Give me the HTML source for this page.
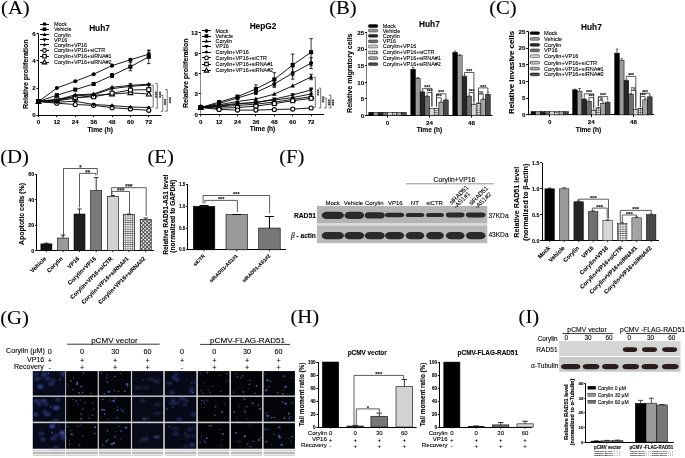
<!DOCTYPE html>
<html><head><meta charset="utf-8"><title>Figure</title>
<style>html,body{margin:0;padding:0;background:#fff;}svg{display:block;filter:blur(0.25px);}</style></head>
<body><svg width="685" height="458" viewBox="0 0 685 458" font-family="Liberation Sans, Arial, sans-serif">
<style>text{stroke:currentColor;stroke-width:0.1px;}</style>
<rect width="685" height="458" fill="#fff"/>
<defs>
<pattern id="pgrid" width="2.2" height="2.2" patternUnits="userSpaceOnUse">
<rect width="2.2" height="2.2" fill="#f4f4f4"/><path d="M0 0.3H2.2M0.3 0V2.2" stroke="#444" stroke-width="0.55"/></pattern>
<pattern id="phatch" width="1.6" height="1.6" patternUnits="userSpaceOnUse">
<rect width="1.6" height="1.6" fill="#bdbdbd"/><rect width="0.8" height="0.8" fill="#8a8a8a"/><rect x="0.8" y="0.8" width="0.8" height="0.8" fill="#8a8a8a"/></pattern>
<pattern id="pcheck" width="2.0" height="2.0" patternUnits="userSpaceOnUse">
<rect width="2.0" height="2.0" fill="#2a2a2a"/><rect x="0.5" y="0.5" width="0.9" height="0.9" fill="#bbb"/></pattern>
<pattern id="pcheckD" width="2.6" height="2.6" patternUnits="userSpaceOnUse" patternTransform="rotate(45)">
<rect width="2.6" height="2.6" fill="#eee"/><path d="M0 0.4H2.6M0.4 0V2.6" stroke="#333" stroke-width="0.8"/></pattern>
<filter id="blur1" x="-50%" y="-50%" width="200%" height="200%"><feGaussianBlur stdDeviation="0.6"/></filter>
<filter id="blur2" x="-50%" y="-50%" width="200%" height="200%"><feGaussianBlur stdDeviation="1.2"/></filter>
<filter id="blur4" x="-50%" y="-50%" width="200%" height="200%"><feGaussianBlur stdDeviation="0.75"/></filter>
<filter id="blur5" x="-50%" y="-50%" width="200%" height="200%"><feGaussianBlur stdDeviation="1.0"/></filter>
<filter id="blur3" x="-50%" y="-50%" width="200%" height="200%"><feGaussianBlur stdDeviation="0.35"/></filter>
</defs>
<text transform="translate(1 13.7) scale(1.065 1)" font-size="19.4" font-family="Liberation Serif, Times New Roman, serif">(A)</text>
<line x1="38.5" y1="115.5" x2="38.5" y2="33.8" stroke="#000" stroke-width="1"/>
<line x1="36.5" y1="115.5" x2="38.5" y2="115.5" stroke="#000" stroke-width="1"/>
<text x="35.7" y="117.33" font-size="6.2" font-weight="bold" text-anchor="end">0</text>
<line x1="36.5" y1="88.5" x2="38.5" y2="88.5" stroke="#000" stroke-width="1"/>
<text x="35.7" y="90.23" font-size="6.2" font-weight="bold" text-anchor="end">2</text>
<line x1="36.5" y1="60.5" x2="38.5" y2="60.5" stroke="#000" stroke-width="1"/>
<text x="35.7" y="63.13" font-size="6.2" font-weight="bold" text-anchor="end">4</text>
<line x1="36.5" y1="33.5" x2="38.5" y2="33.5" stroke="#000" stroke-width="1"/>
<text x="35.7" y="36.03" font-size="6.2" font-weight="bold" text-anchor="end">6</text>
<line x1="38.1" y1="115.5" x2="161.5" y2="115.5" stroke="#000" stroke-width="1"/>
<line x1="38.5" y1="115.1" x2="38.5" y2="117.1" stroke="#000" stroke-width="1"/>
<text x="38.5" y="124.3" font-size="6.2" font-weight="bold" text-anchor="middle">0</text>
<line x1="56.5" y1="115.1" x2="56.5" y2="117.1" stroke="#000" stroke-width="1"/>
<text x="56.88" y="124.3" font-size="6.2" font-weight="bold" text-anchor="middle">12</text>
<line x1="75.5" y1="115.1" x2="75.5" y2="117.1" stroke="#000" stroke-width="1"/>
<text x="75.26" y="124.3" font-size="6.2" font-weight="bold" text-anchor="middle">24</text>
<line x1="93.5" y1="115.1" x2="93.5" y2="117.1" stroke="#000" stroke-width="1"/>
<text x="93.64" y="124.3" font-size="6.2" font-weight="bold" text-anchor="middle">36</text>
<line x1="112.5" y1="115.1" x2="112.5" y2="117.1" stroke="#000" stroke-width="1"/>
<text x="112.02" y="124.3" font-size="6.2" font-weight="bold" text-anchor="middle">48</text>
<line x1="130.5" y1="115.1" x2="130.5" y2="117.1" stroke="#000" stroke-width="1"/>
<text x="130.4" y="124.3" font-size="6.2" font-weight="bold" text-anchor="middle">60</text>
<line x1="148.5" y1="115.1" x2="148.5" y2="117.1" stroke="#000" stroke-width="1"/>
<text x="148.78" y="124.3" font-size="6.2" font-weight="bold" text-anchor="middle">72</text>
<text x="100.2" y="131.9" font-size="6.6" font-weight="bold" text-anchor="middle">Time (h)</text>
<text x="28.5" y="74.2" font-size="7" font-weight="bold" text-anchor="middle" transform="rotate(-90 28.5 74.2)">Relative  proliferation</text>
<text x="99.5" y="31" font-size="8.3" font-weight="bold" text-anchor="middle">Huh7</text>
<path d="M38.5 101.55L56.88 88L75.26 81.22L93.64 74.18L112.02 65.64L130.4 59.82L148.78 54.12" stroke="#000" stroke-width="0.9" fill="none"/>
<path d="M38.5 101.55L56.88 95.18L75.26 89.63L93.64 83.94L112.02 75.53L130.4 66.73L148.78 56.83" stroke="#000" stroke-width="0.9" fill="none"/>
<path d="M38.5 101.55L56.88 99.92L75.26 94.77L93.64 94.1L112.02 87.32L130.4 85.29L148.78 84.21" stroke="#000" stroke-width="0.9" fill="none"/>
<path d="M38.5 101.55L56.88 100.87L75.26 95.86L93.64 94.77L112.02 88.68L130.4 86.37L148.78 85.02" stroke="#000" stroke-width="0.9" fill="none"/>
<path d="M38.5 101.55L56.88 102.23L75.26 101.28L93.64 104.53L112.02 105.61L130.4 106.97L148.78 107.51" stroke="#000" stroke-width="0.9" fill="none"/>
<path d="M38.5 101.55L56.88 103.18L75.26 104.53L93.64 105.34L112.02 107.65L130.4 109L148.78 110.36" stroke="#000" stroke-width="0.9" fill="none"/>
<path d="M38.5 101.55L56.88 99.11L75.26 97.48L93.64 96.81L112.02 93.15L130.4 90.03L148.78 89.63" stroke="#000" stroke-width="0.9" fill="none"/>
<path d="M38.5 101.55L56.88 100.87L75.26 98.16L93.64 95.45L112.02 94.1L130.4 92.74L148.78 94.1" stroke="#000" stroke-width="0.9" fill="none"/>
<path d="M38.5 98.88L40.96 103.39L36.04 103.39Z" fill="#fff" stroke="#000" stroke-width="1.1"/>
<path d="M56.88 98.21L59.34 102.72L54.42 102.72Z" fill="#fff" stroke="#000" stroke-width="1.1"/>
<path d="M75.26 95.5L77.72 100.01L72.8 100.01Z" fill="#fff" stroke="#000" stroke-width="1.1"/>
<path d="M93.64 92.79L96.1 97.3L91.18 97.3Z" fill="#fff" stroke="#000" stroke-width="1.1"/>
<path d="M112.02 91.43L114.48 95.94L109.56 95.94Z" fill="#fff" stroke="#000" stroke-width="1.1"/>
<path d="M130.4 90.08L132.86 94.59L127.94 94.59Z" fill="#fff" stroke="#000" stroke-width="1.1"/>
<path d="M148.78 91.43L151.24 95.94L146.32 95.94Z" fill="#fff" stroke="#000" stroke-width="1.1"/>
<rect x="36.55" y="99.6" width="3.89" height="3.89" fill="#fff" stroke="#000" stroke-width="1.1"/>
<rect x="54.93" y="97.16" width="3.89" height="3.89" fill="#fff" stroke="#000" stroke-width="1.1"/>
<rect x="73.31" y="95.54" width="3.89" height="3.89" fill="#fff" stroke="#000" stroke-width="1.1"/>
<rect x="91.69" y="94.86" width="3.89" height="3.89" fill="#fff" stroke="#000" stroke-width="1.1"/>
<rect x="110.07" y="91.2" width="3.89" height="3.89" fill="#fff" stroke="#000" stroke-width="1.1"/>
<rect x="128.45" y="88.08" width="3.89" height="3.89" fill="#fff" stroke="#000" stroke-width="1.1"/>
<line x1="148.78" y1="88" x2="148.78" y2="91.25" stroke="#000" stroke-width="0.8"/>
<line x1="146.98" y1="88" x2="150.58" y2="88" stroke="#000" stroke-width="0.8"/>
<line x1="146.98" y1="91.25" x2="150.58" y2="91.25" stroke="#000" stroke-width="0.8"/>
<rect x="146.83" y="87.68" width="3.89" height="3.89" fill="#fff" stroke="#000" stroke-width="1.1"/>
<circle cx="38.5" cy="101.55" r="2.05" fill="#fff" stroke="#000" stroke-width="1.1"/>
<circle cx="56.88" cy="103.18" r="2.05" fill="#fff" stroke="#000" stroke-width="1.1"/>
<circle cx="75.26" cy="104.53" r="2.05" fill="#fff" stroke="#000" stroke-width="1.1"/>
<circle cx="93.64" cy="105.34" r="2.05" fill="#fff" stroke="#000" stroke-width="1.1"/>
<circle cx="112.02" cy="107.65" r="2.05" fill="#fff" stroke="#000" stroke-width="1.1"/>
<line x1="130.4" y1="107.65" x2="130.4" y2="110.36" stroke="#000" stroke-width="0.8"/>
<line x1="128.6" y1="107.65" x2="132.2" y2="107.65" stroke="#000" stroke-width="0.8"/>
<line x1="128.6" y1="110.36" x2="132.2" y2="110.36" stroke="#000" stroke-width="0.8"/>
<circle cx="130.4" cy="109" r="2.05" fill="#fff" stroke="#000" stroke-width="1.1"/>
<circle cx="148.78" cy="110.36" r="2.05" fill="#fff" stroke="#000" stroke-width="1.1"/>
<path d="M38.5 99.5L40.55 101.55L38.5 103.6L36.45 101.55Z" fill="#000"/>
<path d="M56.88 100.18L58.93 102.23L56.88 104.28L54.83 102.23Z" fill="#000"/>
<path d="M75.26 99.23L77.31 101.28L75.26 103.33L73.21 101.28Z" fill="#000"/>
<path d="M93.64 102.48L95.69 104.53L93.64 106.58L91.59 104.53Z" fill="#000"/>
<path d="M112.02 103.56L114.07 105.61L112.02 107.66L109.97 105.61Z" fill="#000"/>
<path d="M130.4 104.92L132.45 106.97L130.4 109.02L128.35 106.97Z" fill="#000"/>
<path d="M148.78 105.46L150.83 107.51L148.78 109.56L146.73 107.51Z" fill="#000"/>
<path d="M38.5 104.01L40.76 99.91L36.24 99.91Z" fill="#000"/>
<path d="M56.88 103.33L59.13 99.23L54.62 99.23Z" fill="#000"/>
<path d="M75.26 98.32L77.51 94.22L73 94.22Z" fill="#000"/>
<path d="M93.64 97.23L95.89 93.13L91.39 93.13Z" fill="#000"/>
<path d="M112.02 91.14L114.27 87.04L109.77 87.04Z" fill="#000"/>
<path d="M130.4 88.83L132.65 84.73L128.14 84.73Z" fill="#000"/>
<path d="M148.78 87.48L151.03 83.38L146.53 83.38Z" fill="#000"/>
<path d="M38.5 99.09L40.76 103.19L36.24 103.19Z" fill="#000"/>
<path d="M56.88 97.46L59.13 101.56L54.62 101.56Z" fill="#000"/>
<path d="M75.26 92.31L77.51 96.41L73 96.41Z" fill="#000"/>
<path d="M93.64 91.64L95.89 95.74L91.39 95.74Z" fill="#000"/>
<path d="M112.02 84.86L114.27 88.96L109.77 88.96Z" fill="#000"/>
<line x1="130.4" y1="83.66" x2="130.4" y2="86.92" stroke="#000" stroke-width="0.8"/>
<line x1="128.6" y1="83.66" x2="132.2" y2="83.66" stroke="#000" stroke-width="0.8"/>
<line x1="128.6" y1="86.92" x2="132.2" y2="86.92" stroke="#000" stroke-width="0.8"/>
<path d="M130.4 82.83L132.65 86.93L128.14 86.93Z" fill="#000"/>
<path d="M148.78 81.75L151.03 85.85L146.53 85.85Z" fill="#000"/>
<circle cx="38.5" cy="101.55" r="2.05" fill="#000"/>
<circle cx="56.88" cy="88" r="2.05" fill="#000"/>
<circle cx="75.26" cy="81.22" r="2.05" fill="#000"/>
<circle cx="93.64" cy="74.18" r="2.05" fill="#000"/>
<circle cx="112.02" cy="65.64" r="2.05" fill="#000"/>
<line x1="130.4" y1="58.46" x2="130.4" y2="61.17" stroke="#000" stroke-width="0.8"/>
<line x1="128.6" y1="58.46" x2="132.2" y2="58.46" stroke="#000" stroke-width="0.8"/>
<line x1="128.6" y1="61.17" x2="132.2" y2="61.17" stroke="#000" stroke-width="0.8"/>
<circle cx="130.4" cy="59.82" r="2.05" fill="#000"/>
<line x1="148.78" y1="50.74" x2="148.78" y2="57.51" stroke="#000" stroke-width="0.8"/>
<line x1="146.98" y1="50.74" x2="150.58" y2="50.74" stroke="#000" stroke-width="0.8"/>
<line x1="146.98" y1="57.51" x2="150.58" y2="57.51" stroke="#000" stroke-width="0.8"/>
<circle cx="148.78" cy="54.12" r="2.05" fill="#000"/>
<rect x="36.45" y="99.5" width="4.1" height="4.1" fill="#000"/>
<rect x="54.83" y="93.13" width="4.1" height="4.1" fill="#000"/>
<rect x="73.21" y="87.58" width="4.1" height="4.1" fill="#000"/>
<rect x="91.59" y="81.89" width="4.1" height="4.1" fill="#000"/>
<line x1="112.02" y1="73.5" x2="112.02" y2="77.57" stroke="#000" stroke-width="0.8"/>
<line x1="110.22" y1="73.5" x2="113.82" y2="73.5" stroke="#000" stroke-width="0.8"/>
<line x1="110.22" y1="77.57" x2="113.82" y2="77.57" stroke="#000" stroke-width="0.8"/>
<rect x="109.97" y="73.48" width="4.1" height="4.1" fill="#000"/>
<line x1="130.4" y1="62.66" x2="130.4" y2="70.79" stroke="#000" stroke-width="0.8"/>
<line x1="128.6" y1="62.66" x2="132.2" y2="62.66" stroke="#000" stroke-width="0.8"/>
<line x1="128.6" y1="70.79" x2="132.2" y2="70.79" stroke="#000" stroke-width="0.8"/>
<rect x="128.35" y="64.68" width="4.1" height="4.1" fill="#000"/>
<line x1="148.78" y1="50.06" x2="148.78" y2="63.61" stroke="#000" stroke-width="0.8"/>
<line x1="146.98" y1="50.06" x2="150.58" y2="50.06" stroke="#000" stroke-width="0.8"/>
<line x1="146.98" y1="63.61" x2="150.58" y2="63.61" stroke="#000" stroke-width="0.8"/>
<rect x="146.73" y="54.78" width="4.1" height="4.1" fill="#000"/>
<line x1="40.1" y1="24.5" x2="48.9" y2="24.5" stroke="#000" stroke-width="1"/>
<circle cx="44.5" cy="24" r="1.85" fill="#000"/>
<text x="54" y="25.9" font-size="5.4">Mock</text>
<line x1="40.1" y1="29.5" x2="48.9" y2="29.5" stroke="#000" stroke-width="1"/>
<rect x="42.65" y="27.35" width="3.7" height="3.7" fill="#000"/>
<text x="54" y="31.1" font-size="5.4">Vehicle</text>
<line x1="40.1" y1="34.5" x2="48.9" y2="34.5" stroke="#000" stroke-width="1"/>
<path d="M44.5 32.38L46.53 36.08L42.47 36.08Z" fill="#000"/>
<text x="54" y="36.5" font-size="5.4">Corylin</text>
<line x1="40.1" y1="39.5" x2="48.9" y2="39.5" stroke="#000" stroke-width="1"/>
<path d="M44.5 42.02L46.53 38.32L42.47 38.32Z" fill="#000"/>
<text x="54" y="41.7" font-size="5.4">VP16</text>
<line x1="40.1" y1="44.5" x2="48.9" y2="44.5" stroke="#000" stroke-width="1"/>
<path d="M44.5 42.95L46.35 44.8L44.5 46.65L42.65 44.8Z" fill="#000"/>
<text x="54" y="46.7" font-size="5.4">Corylin+VP16</text>
<line x1="40.1" y1="50.5" x2="48.9" y2="50.5" stroke="#000" stroke-width="1"/>
<circle cx="44.5" cy="50.5" r="1.85" fill="#fff" stroke="#000" stroke-width="1.1"/>
<text x="54" y="52.4" font-size="5.4">Corylin+VP16+siCTR</text>
<line x1="40.1" y1="56.5" x2="48.9" y2="56.5" stroke="#000" stroke-width="1"/>
<rect x="42.74" y="54.44" width="3.52" height="3.52" fill="#fff" stroke="#000" stroke-width="1.1"/>
<text x="54" y="58.1" font-size="5.4">Corylin+VP16+siRNA#1</text>
<line x1="40.1" y1="62.5" x2="48.9" y2="62.5" stroke="#000" stroke-width="1"/>
<path d="M44.5 59.8L46.72 63.87L42.28 63.87Z" fill="#fff" stroke="#000" stroke-width="1.1"/>
<text x="54" y="64.1" font-size="5.4">Corylin+VP16+siRNA#2</text>
<path d="M151.2 85.3H153.2V107.1H151.2" stroke="#333" stroke-width="0.7" fill="none"/>
<text x="152.7" y="94.7" font-size="5.5" font-weight="bold" text-anchor="middle" fill="#333" transform="rotate(90 152.7 94.7)">***</text>
<path d="M155.3 83.4H157.3V108.2H155.3" stroke="#333" stroke-width="0.7" fill="none"/>
<text x="156.8" y="94.7" font-size="5.5" font-weight="bold" text-anchor="middle" fill="#333" transform="rotate(90 156.8 94.7)">***</text>
<path d="M160.8 95.3H162.8V111.3H160.8" stroke="#333" stroke-width="0.7" fill="none"/>
<text x="162.3" y="102" font-size="5.5" font-weight="bold" text-anchor="middle" fill="#333" transform="rotate(90 162.3 102)">***</text>
<path d="M165.2 89.5H167.2V111.3H165.2" stroke="#333" stroke-width="0.7" fill="none"/>
<text x="166.7" y="100.2" font-size="5.5" font-weight="bold" text-anchor="middle" fill="#333" transform="rotate(90 166.7 100.2)">***</text>
<line x1="200.5" y1="114.7" x2="200.5" y2="32.94" stroke="#8a8a8a" stroke-width="1"/>
<line x1="198.7" y1="114.5" x2="200.7" y2="114.5" stroke="#000" stroke-width="1"/>
<text x="197.9" y="116.53" font-size="6.2" font-weight="bold" text-anchor="end">0</text>
<line x1="198.7" y1="93.5" x2="200.7" y2="93.5" stroke="#000" stroke-width="1"/>
<text x="197.9" y="96.19" font-size="6.2" font-weight="bold" text-anchor="end">3</text>
<line x1="198.7" y1="73.5" x2="200.7" y2="73.5" stroke="#000" stroke-width="1"/>
<text x="197.9" y="75.85" font-size="6.2" font-weight="bold" text-anchor="end">6</text>
<line x1="198.7" y1="53.5" x2="200.7" y2="53.5" stroke="#000" stroke-width="1"/>
<text x="197.9" y="55.51" font-size="6.2" font-weight="bold" text-anchor="end">9</text>
<line x1="198.7" y1="32.5" x2="200.7" y2="32.5" stroke="#000" stroke-width="1"/>
<text x="197.9" y="35.17" font-size="6.2" font-weight="bold" text-anchor="end">12</text>
<line x1="200.3" y1="114.5" x2="324" y2="114.5" stroke="#000" stroke-width="1"/>
<line x1="200.5" y1="114.3" x2="200.5" y2="116.3" stroke="#000" stroke-width="1"/>
<text x="200.7" y="123.5" font-size="6.2" font-weight="bold" text-anchor="middle">0</text>
<line x1="219.5" y1="114.3" x2="219.5" y2="116.3" stroke="#000" stroke-width="1"/>
<text x="219.1" y="123.5" font-size="6.2" font-weight="bold" text-anchor="middle">12</text>
<line x1="237.5" y1="114.3" x2="237.5" y2="116.3" stroke="#000" stroke-width="1"/>
<text x="237.5" y="123.5" font-size="6.2" font-weight="bold" text-anchor="middle">24</text>
<line x1="255.5" y1="114.3" x2="255.5" y2="116.3" stroke="#000" stroke-width="1"/>
<text x="255.9" y="123.5" font-size="6.2" font-weight="bold" text-anchor="middle">36</text>
<line x1="274.5" y1="114.3" x2="274.5" y2="116.3" stroke="#000" stroke-width="1"/>
<text x="274.3" y="123.5" font-size="6.2" font-weight="bold" text-anchor="middle">48</text>
<line x1="292.5" y1="114.3" x2="292.5" y2="116.3" stroke="#000" stroke-width="1"/>
<text x="292.7" y="123.5" font-size="6.2" font-weight="bold" text-anchor="middle">60</text>
<line x1="311.5" y1="114.3" x2="311.5" y2="116.3" stroke="#000" stroke-width="1"/>
<text x="311.1" y="123.5" font-size="6.2" font-weight="bold" text-anchor="middle">72</text>
<text x="262.55" y="131.1" font-size="6.6" font-weight="bold" text-anchor="middle">Time (h)</text>
<text x="187.6" y="73.2" font-size="7" font-weight="bold" text-anchor="middle" transform="rotate(-90 187.6 73.2)">Relative  proliferation</text>
<text x="263" y="29" font-size="8.3" font-weight="bold" text-anchor="middle">HepG2</text>
<path d="M200.7 107.52L219.1 103.45L237.5 98.03L255.9 92.4L274.3 83.93L292.7 73.08L311.1 63.11" stroke="#000" stroke-width="0.9" fill="none"/>
<path d="M200.7 107.52L219.1 102.1L237.5 96.67L255.9 88.94L274.3 79.45L292.7 64.94L311.1 52.2" stroke="#000" stroke-width="0.9" fill="none"/>
<path d="M200.7 107.52L219.1 104.81L237.5 101.42L255.9 99.05L274.3 94.16L292.7 85.82L311.1 77.01" stroke="#000" stroke-width="0.9" fill="none"/>
<path d="M200.7 107.52L219.1 105.49L237.5 103.45L255.9 102.77L274.3 99.05L292.7 94.98L311.1 89.89" stroke="#000" stroke-width="0.9" fill="none"/>
<path d="M200.7 107.52L219.1 106.16L237.5 104.13L255.9 102.1L274.3 100.06L292.7 97.55L311.1 93.96" stroke="#000" stroke-width="0.9" fill="none"/>
<path d="M200.7 107.52L219.1 109.42L237.5 110.1L255.9 110.1L274.3 109.49L292.7 109.08L311.1 107.99" stroke="#000" stroke-width="0.9" fill="none"/>
<path d="M200.7 107.52L219.1 108.2L237.5 107.52L255.9 106.16L274.3 103.59L292.7 100.74L311.1 98.37" stroke="#000" stroke-width="0.9" fill="none"/>
<path d="M200.7 107.52L219.1 106.84L237.5 105.49L255.9 104.13L274.3 102.1L292.7 99.38L311.1 96.67" stroke="#000" stroke-width="0.9" fill="none"/>
<path d="M200.7 104.85L203.16 109.36L198.24 109.36Z" fill="#fff" stroke="#000" stroke-width="1.1"/>
<path d="M219.1 104.18L221.56 108.69L216.64 108.69Z" fill="#fff" stroke="#000" stroke-width="1.1"/>
<path d="M237.5 102.82L239.96 107.33L235.04 107.33Z" fill="#fff" stroke="#000" stroke-width="1.1"/>
<path d="M255.9 101.46L258.36 105.97L253.44 105.97Z" fill="#fff" stroke="#000" stroke-width="1.1"/>
<path d="M274.3 99.43L276.76 103.94L271.84 103.94Z" fill="#fff" stroke="#000" stroke-width="1.1"/>
<path d="M292.7 96.72L295.16 101.23L290.24 101.23Z" fill="#fff" stroke="#000" stroke-width="1.1"/>
<path d="M311.1 94.01L313.56 98.52L308.64 98.52Z" fill="#fff" stroke="#000" stroke-width="1.1"/>
<rect x="198.75" y="105.57" width="3.89" height="3.89" fill="#fff" stroke="#000" stroke-width="1.1"/>
<rect x="217.15" y="106.25" width="3.89" height="3.89" fill="#fff" stroke="#000" stroke-width="1.1"/>
<rect x="235.55" y="105.57" width="3.89" height="3.89" fill="#fff" stroke="#000" stroke-width="1.1"/>
<rect x="253.95" y="104.22" width="3.89" height="3.89" fill="#fff" stroke="#000" stroke-width="1.1"/>
<rect x="272.35" y="101.64" width="3.89" height="3.89" fill="#fff" stroke="#000" stroke-width="1.1"/>
<rect x="290.75" y="98.79" width="3.89" height="3.89" fill="#fff" stroke="#000" stroke-width="1.1"/>
<rect x="309.15" y="96.42" width="3.89" height="3.89" fill="#fff" stroke="#000" stroke-width="1.1"/>
<circle cx="200.7" cy="107.52" r="2.05" fill="#fff" stroke="#000" stroke-width="1.1"/>
<circle cx="219.1" cy="109.42" r="2.05" fill="#fff" stroke="#000" stroke-width="1.1"/>
<circle cx="237.5" cy="110.1" r="2.05" fill="#fff" stroke="#000" stroke-width="1.1"/>
<circle cx="255.9" cy="110.1" r="2.05" fill="#fff" stroke="#000" stroke-width="1.1"/>
<circle cx="274.3" cy="109.49" r="2.05" fill="#fff" stroke="#000" stroke-width="1.1"/>
<circle cx="292.7" cy="109.08" r="2.05" fill="#fff" stroke="#000" stroke-width="1.1"/>
<circle cx="311.1" cy="107.99" r="2.05" fill="#fff" stroke="#000" stroke-width="1.1"/>
<path d="M200.7 105.47L202.75 107.52L200.7 109.57L198.65 107.52Z" fill="#000"/>
<path d="M219.1 104.11L221.15 106.16L219.1 108.21L217.05 106.16Z" fill="#000"/>
<path d="M237.5 102.08L239.55 104.13L237.5 106.18L235.45 104.13Z" fill="#000"/>
<path d="M255.9 100.05L257.95 102.1L255.9 104.15L253.85 102.1Z" fill="#000"/>
<path d="M274.3 98.01L276.35 100.06L274.3 102.11L272.25 100.06Z" fill="#000"/>
<path d="M292.7 95.5L294.75 97.55L292.7 99.6L290.65 97.55Z" fill="#000"/>
<path d="M311.1 91.91L313.15 93.96L311.1 96.01L309.05 93.96Z" fill="#000"/>
<path d="M200.7 109.98L202.95 105.88L198.44 105.88Z" fill="#000"/>
<path d="M219.1 107.95L221.35 103.85L216.84 103.85Z" fill="#000"/>
<path d="M237.5 105.91L239.75 101.81L235.25 101.81Z" fill="#000"/>
<path d="M255.9 105.23L258.15 101.13L253.64 101.13Z" fill="#000"/>
<path d="M274.3 101.5L276.55 97.41L272.04 97.41Z" fill="#000"/>
<path d="M292.7 97.44L294.95 93.34L290.44 93.34Z" fill="#000"/>
<line x1="311.1" y1="87.86" x2="311.1" y2="91.93" stroke="#000" stroke-width="0.8"/>
<line x1="309.3" y1="87.86" x2="312.9" y2="87.86" stroke="#000" stroke-width="0.8"/>
<line x1="309.3" y1="91.93" x2="312.9" y2="91.93" stroke="#000" stroke-width="0.8"/>
<path d="M311.1 92.35L313.35 88.25L308.84 88.25Z" fill="#000"/>
<path d="M200.7 105.06L202.95 109.16L198.44 109.16Z" fill="#000"/>
<path d="M219.1 102.35L221.35 106.45L216.84 106.45Z" fill="#000"/>
<path d="M237.5 98.96L239.75 103.06L235.25 103.06Z" fill="#000"/>
<path d="M255.9 96.59L258.15 100.69L253.64 100.69Z" fill="#000"/>
<path d="M274.3 91.7L276.55 95.8L272.04 95.8Z" fill="#000"/>
<path d="M292.7 83.36L294.95 87.46L290.44 87.46Z" fill="#000"/>
<line x1="311.1" y1="74.3" x2="311.1" y2="79.72" stroke="#000" stroke-width="0.8"/>
<line x1="309.3" y1="74.3" x2="312.9" y2="74.3" stroke="#000" stroke-width="0.8"/>
<line x1="309.3" y1="79.72" x2="312.9" y2="79.72" stroke="#000" stroke-width="0.8"/>
<path d="M311.1 74.55L313.35 78.65L308.84 78.65Z" fill="#000"/>
<circle cx="200.7" cy="107.52" r="2.05" fill="#000"/>
<circle cx="219.1" cy="103.45" r="2.05" fill="#000"/>
<line x1="237.5" y1="96.67" x2="237.5" y2="99.38" stroke="#000" stroke-width="0.8"/>
<line x1="235.7" y1="96.67" x2="239.3" y2="96.67" stroke="#000" stroke-width="0.8"/>
<line x1="235.7" y1="99.38" x2="239.3" y2="99.38" stroke="#000" stroke-width="0.8"/>
<circle cx="237.5" cy="98.03" r="2.05" fill="#000"/>
<line x1="255.9" y1="90.37" x2="255.9" y2="94.43" stroke="#000" stroke-width="0.8"/>
<line x1="254.1" y1="90.37" x2="257.7" y2="90.37" stroke="#000" stroke-width="0.8"/>
<line x1="254.1" y1="94.43" x2="257.7" y2="94.43" stroke="#000" stroke-width="0.8"/>
<circle cx="255.9" cy="92.4" r="2.05" fill="#000"/>
<line x1="274.3" y1="80.54" x2="274.3" y2="87.32" stroke="#000" stroke-width="0.8"/>
<line x1="272.5" y1="80.54" x2="276.1" y2="80.54" stroke="#000" stroke-width="0.8"/>
<line x1="272.5" y1="87.32" x2="276.1" y2="87.32" stroke="#000" stroke-width="0.8"/>
<circle cx="274.3" cy="83.93" r="2.05" fill="#000"/>
<line x1="292.7" y1="66.98" x2="292.7" y2="79.18" stroke="#000" stroke-width="0.8"/>
<line x1="290.9" y1="66.98" x2="294.5" y2="66.98" stroke="#000" stroke-width="0.8"/>
<line x1="290.9" y1="79.18" x2="294.5" y2="79.18" stroke="#000" stroke-width="0.8"/>
<circle cx="292.7" cy="73.08" r="2.05" fill="#000"/>
<line x1="311.1" y1="57.69" x2="311.1" y2="68.53" stroke="#000" stroke-width="0.8"/>
<line x1="309.3" y1="57.69" x2="312.9" y2="57.69" stroke="#000" stroke-width="0.8"/>
<line x1="309.3" y1="68.53" x2="312.9" y2="68.53" stroke="#000" stroke-width="0.8"/>
<circle cx="311.1" cy="63.11" r="2.05" fill="#000"/>
<rect x="198.65" y="105.47" width="4.1" height="4.1" fill="#000"/>
<rect x="217.05" y="100.05" width="4.1" height="4.1" fill="#000"/>
<line x1="237.5" y1="95.32" x2="237.5" y2="98.03" stroke="#000" stroke-width="0.8"/>
<line x1="235.7" y1="95.32" x2="239.3" y2="95.32" stroke="#000" stroke-width="0.8"/>
<line x1="235.7" y1="98.03" x2="239.3" y2="98.03" stroke="#000" stroke-width="0.8"/>
<rect x="235.45" y="94.62" width="4.1" height="4.1" fill="#000"/>
<line x1="255.9" y1="84.87" x2="255.9" y2="93.01" stroke="#000" stroke-width="0.8"/>
<line x1="254.1" y1="84.87" x2="257.7" y2="84.87" stroke="#000" stroke-width="0.8"/>
<line x1="254.1" y1="93.01" x2="257.7" y2="93.01" stroke="#000" stroke-width="0.8"/>
<rect x="253.85" y="86.89" width="4.1" height="4.1" fill="#000"/>
<line x1="274.3" y1="72.67" x2="274.3" y2="86.23" stroke="#000" stroke-width="0.8"/>
<line x1="272.5" y1="72.67" x2="276.1" y2="72.67" stroke="#000" stroke-width="0.8"/>
<line x1="272.5" y1="86.23" x2="276.1" y2="86.23" stroke="#000" stroke-width="0.8"/>
<rect x="272.25" y="77.4" width="4.1" height="4.1" fill="#000"/>
<line x1="292.7" y1="54.09" x2="292.7" y2="75.79" stroke="#000" stroke-width="0.8"/>
<line x1="290.9" y1="54.09" x2="294.5" y2="54.09" stroke="#000" stroke-width="0.8"/>
<line x1="290.9" y1="75.79" x2="294.5" y2="75.79" stroke="#000" stroke-width="0.8"/>
<rect x="290.65" y="62.89" width="4.1" height="4.1" fill="#000"/>
<line x1="311.1" y1="38.64" x2="311.1" y2="65.76" stroke="#000" stroke-width="0.8"/>
<line x1="309.3" y1="38.64" x2="312.9" y2="38.64" stroke="#000" stroke-width="0.8"/>
<line x1="309.3" y1="65.76" x2="312.9" y2="65.76" stroke="#000" stroke-width="0.8"/>
<rect x="309.05" y="50.15" width="4.1" height="4.1" fill="#000"/>
<line x1="202.1" y1="30.5" x2="210.9" y2="30.5" stroke="#000" stroke-width="1"/>
<circle cx="206.5" cy="30.9" r="1.85" fill="#000"/>
<text x="215.6" y="32.8" font-size="5.4">Mock</text>
<line x1="202.1" y1="36.5" x2="210.9" y2="36.5" stroke="#000" stroke-width="1"/>
<rect x="204.65" y="34.15" width="3.7" height="3.7" fill="#000"/>
<text x="215.6" y="37.9" font-size="5.4">Vehicle</text>
<line x1="202.1" y1="41.5" x2="210.9" y2="41.5" stroke="#000" stroke-width="1"/>
<path d="M206.5 38.88L208.53 42.58L204.47 42.58Z" fill="#000"/>
<text x="215.6" y="43" font-size="5.4">Corylin</text>
<line x1="202.1" y1="46.5" x2="210.9" y2="46.5" stroke="#000" stroke-width="1"/>
<path d="M206.5 48.72L208.53 45.02L204.47 45.02Z" fill="#000"/>
<text x="215.6" y="48.4" font-size="5.4">VP16</text>
<line x1="202.1" y1="52.5" x2="210.9" y2="52.5" stroke="#000" stroke-width="1"/>
<path d="M206.5 50.15L208.35 52L206.5 53.85L204.65 52Z" fill="#000"/>
<text x="215.6" y="53.9" font-size="5.4">Corylin+VP16</text>
<line x1="202.1" y1="57.5" x2="210.9" y2="57.5" stroke="#000" stroke-width="1"/>
<circle cx="206.5" cy="57.9" r="1.85" fill="#fff" stroke="#000" stroke-width="1.1"/>
<text x="215.6" y="59.8" font-size="5.4">Corylin+VP16+siCTR</text>
<line x1="202.1" y1="64.5" x2="210.9" y2="64.5" stroke="#000" stroke-width="1"/>
<rect x="204.74" y="62.24" width="3.52" height="3.52" fill="#fff" stroke="#000" stroke-width="1.1"/>
<text x="215.6" y="65.9" font-size="5.4">Corylin+VP16+siRNA#1</text>
<line x1="202.1" y1="70.5" x2="210.9" y2="70.5" stroke="#000" stroke-width="1"/>
<path d="M206.5 68.09L208.72 72.17L204.28 72.17Z" fill="#fff" stroke="#000" stroke-width="1.1"/>
<text x="215.6" y="72.4" font-size="5.4">Corylin+VP16+siRNA#2</text>
<path d="M313.3 77.1H315.3V107.4H313.3" stroke="#333" stroke-width="0.7" fill="none"/>
<text x="314.8" y="92.4" font-size="5.5" font-weight="bold" text-anchor="middle" fill="#333" transform="rotate(90 314.8 92.4)">***</text>
<path d="M318.7 88.2H320.7V107.9H318.7" stroke="#333" stroke-width="0.7" fill="none"/>
<text x="320.2" y="99.5" font-size="5.5" font-weight="bold" text-anchor="middle" fill="#333" transform="rotate(90 320.2 99.5)">***</text>
<path d="M324.1 98H326.1V107.9H324.1" stroke="#333" stroke-width="0.7" fill="none"/>
<text x="325.6" y="102.5" font-size="5.5" font-weight="bold" text-anchor="middle" fill="#333" transform="rotate(90 325.6 102.5)">***</text>
<path d="M328.8 95.1H330.8V107.9H328.8" stroke="#333" stroke-width="0.7" fill="none"/>
<text x="330.3" y="102.5" font-size="5.5" font-weight="bold" text-anchor="middle" fill="#333" transform="rotate(90 330.3 102.5)">***</text>
<text transform="translate(329.2 13.7) scale(1.065 1)" font-size="19.4" font-family="Liberation Serif, Times New Roman, serif">(B)</text>
<line x1="366.5" y1="116" x2="366.5" y2="32.35" stroke="#7a7a7a" stroke-width="1"/>
<line x1="364.9" y1="115.5" x2="366.9" y2="115.5" stroke="#000" stroke-width="1"/>
<text x="364.1" y="117.83" font-size="6.2" font-weight="bold" text-anchor="end">0</text>
<line x1="364.9" y1="98.5" x2="366.9" y2="98.5" stroke="#000" stroke-width="1"/>
<text x="364.1" y="101.18" font-size="6.2" font-weight="bold" text-anchor="end">5</text>
<line x1="364.9" y1="82.5" x2="366.9" y2="82.5" stroke="#000" stroke-width="1"/>
<text x="364.1" y="84.53" font-size="6.2" font-weight="bold" text-anchor="end">10</text>
<line x1="364.9" y1="65.5" x2="366.9" y2="65.5" stroke="#000" stroke-width="1"/>
<text x="364.1" y="67.88" font-size="6.2" font-weight="bold" text-anchor="end">15</text>
<line x1="364.9" y1="49.5" x2="366.9" y2="49.5" stroke="#000" stroke-width="1"/>
<text x="364.1" y="51.23" font-size="6.2" font-weight="bold" text-anchor="end">20</text>
<line x1="364.9" y1="32.5" x2="366.9" y2="32.5" stroke="#000" stroke-width="1"/>
<text x="364.1" y="34.58" font-size="6.2" font-weight="bold" text-anchor="end">25</text>
<line x1="366.5" y1="115.5" x2="492.5" y2="115.5" stroke="#000" stroke-width="1"/>
<rect x="368.8" y="112.27" width="4.68" height="3.33" fill="#000" stroke="#000" stroke-width="0.5"/>
<rect x="373.48" y="112.27" width="4.68" height="3.33" fill="#9a9a9a" stroke="#000" stroke-width="0.5"/>
<rect x="378.16" y="112.27" width="4.68" height="3.33" fill="#262626" stroke="#000" stroke-width="0.5"/>
<rect x="382.84" y="112.27" width="4.68" height="3.33" fill="#6f6f6f" stroke="#000" stroke-width="0.5"/>
<rect x="387.52" y="112.27" width="4.68" height="3.33" fill="#d6d6d6" stroke="#000" stroke-width="0.5"/>
<rect x="392.2" y="112.27" width="4.68" height="3.33" fill="url(#pgrid)" stroke="#000" stroke-width="0.5"/>
<rect x="396.88" y="112.27" width="4.68" height="3.33" fill="url(#phatch)" stroke="#000" stroke-width="0.5"/>
<rect x="401.56" y="112.27" width="4.68" height="3.33" fill="url(#pcheck)" stroke="#000" stroke-width="0.5"/>
<line x1="387.5" y1="115.6" x2="387.5" y2="117.6" stroke="#000" stroke-width="1"/>
<text x="387.52" y="124.9" font-size="6.2" font-weight="bold" text-anchor="middle">0</text>
<rect x="410.8" y="69.31" width="4.68" height="46.29" fill="#000" stroke="#000" stroke-width="0.5"/>
<line x1="413.14" y1="69.31" x2="413.14" y2="67.65" stroke="#000" stroke-width="0.6"/>
<line x1="411.94" y1="67.65" x2="414.34" y2="67.65" stroke="#000" stroke-width="0.6"/>
<rect x="415.48" y="78.3" width="4.68" height="37.3" fill="#9a9a9a" stroke="#000" stroke-width="0.5"/>
<line x1="417.82" y1="78.3" x2="417.82" y2="77.64" stroke="#000" stroke-width="0.6"/>
<line x1="416.62" y1="77.64" x2="419.02" y2="77.64" stroke="#000" stroke-width="0.6"/>
<rect x="420.16" y="91.96" width="4.68" height="23.64" fill="#262626" stroke="#000" stroke-width="0.5"/>
<line x1="422.5" y1="91.96" x2="422.5" y2="90.96" stroke="#000" stroke-width="0.6"/>
<line x1="421.3" y1="90.96" x2="423.7" y2="90.96" stroke="#000" stroke-width="0.6"/>
<rect x="424.84" y="96.29" width="4.68" height="19.31" fill="#6f6f6f" stroke="#000" stroke-width="0.5"/>
<line x1="427.18" y1="96.29" x2="427.18" y2="95.62" stroke="#000" stroke-width="0.6"/>
<line x1="425.98" y1="95.62" x2="428.38" y2="95.62" stroke="#000" stroke-width="0.6"/>
<rect x="429.52" y="108.61" width="4.68" height="6.99" fill="#d6d6d6" stroke="#000" stroke-width="0.5"/>
<rect x="434.2" y="108.27" width="4.68" height="7.33" fill="url(#pgrid)" stroke="#000" stroke-width="0.5"/>
<rect x="438.88" y="102.28" width="4.68" height="13.32" fill="url(#phatch)" stroke="#000" stroke-width="0.5"/>
<line x1="441.22" y1="102.28" x2="441.22" y2="100.95" stroke="#000" stroke-width="0.6"/>
<line x1="440.02" y1="100.95" x2="442.42" y2="100.95" stroke="#000" stroke-width="0.6"/>
<rect x="443.56" y="99.95" width="4.68" height="15.65" fill="url(#pcheck)" stroke="#000" stroke-width="0.5"/>
<line x1="445.9" y1="99.95" x2="445.9" y2="98.95" stroke="#000" stroke-width="0.6"/>
<line x1="444.7" y1="98.95" x2="447.1" y2="98.95" stroke="#000" stroke-width="0.6"/>
<line x1="429.5" y1="115.6" x2="429.5" y2="117.6" stroke="#000" stroke-width="1"/>
<text x="429.52" y="124.9" font-size="6.2" font-weight="bold" text-anchor="middle">24</text>
<rect x="452.8" y="52.33" width="4.68" height="63.27" fill="#000" stroke="#000" stroke-width="0.5"/>
<line x1="455.14" y1="52.33" x2="455.14" y2="51" stroke="#000" stroke-width="0.6"/>
<line x1="453.94" y1="51" x2="456.34" y2="51" stroke="#000" stroke-width="0.6"/>
<rect x="457.48" y="55.66" width="4.68" height="59.94" fill="#9a9a9a" stroke="#000" stroke-width="0.5"/>
<line x1="459.82" y1="55.66" x2="459.82" y2="54.66" stroke="#000" stroke-width="0.6"/>
<line x1="458.62" y1="54.66" x2="461.02" y2="54.66" stroke="#000" stroke-width="0.6"/>
<rect x="462.16" y="76.64" width="4.68" height="38.96" fill="#262626" stroke="#000" stroke-width="0.5"/>
<line x1="464.5" y1="76.64" x2="464.5" y2="75.64" stroke="#000" stroke-width="0.6"/>
<line x1="463.3" y1="75.64" x2="465.7" y2="75.64" stroke="#000" stroke-width="0.6"/>
<rect x="466.84" y="96.29" width="4.68" height="19.31" fill="#6f6f6f" stroke="#000" stroke-width="0.5"/>
<line x1="469.18" y1="96.29" x2="469.18" y2="95.29" stroke="#000" stroke-width="0.6"/>
<line x1="467.98" y1="95.29" x2="470.38" y2="95.29" stroke="#000" stroke-width="0.6"/>
<rect x="471.52" y="104.61" width="4.68" height="10.99" fill="#d6d6d6" stroke="#000" stroke-width="0.5"/>
<line x1="473.86" y1="104.61" x2="473.86" y2="103.94" stroke="#000" stroke-width="0.6"/>
<line x1="472.66" y1="103.94" x2="475.06" y2="103.94" stroke="#000" stroke-width="0.6"/>
<rect x="476.2" y="103.28" width="4.68" height="12.32" fill="url(#pgrid)" stroke="#000" stroke-width="0.5"/>
<line x1="478.54" y1="103.28" x2="478.54" y2="102.61" stroke="#000" stroke-width="0.6"/>
<line x1="477.34" y1="102.61" x2="479.74" y2="102.61" stroke="#000" stroke-width="0.6"/>
<rect x="480.88" y="99.28" width="4.68" height="16.32" fill="url(#phatch)" stroke="#000" stroke-width="0.5"/>
<line x1="483.22" y1="99.28" x2="483.22" y2="97.95" stroke="#000" stroke-width="0.6"/>
<line x1="482.02" y1="97.95" x2="484.42" y2="97.95" stroke="#000" stroke-width="0.6"/>
<rect x="485.56" y="94.29" width="4.68" height="21.31" fill="url(#pcheck)" stroke="#000" stroke-width="0.5"/>
<line x1="487.9" y1="94.29" x2="487.9" y2="92.29" stroke="#000" stroke-width="0.6"/>
<line x1="486.7" y1="92.29" x2="489.1" y2="92.29" stroke="#000" stroke-width="0.6"/>
<line x1="471.5" y1="115.6" x2="471.5" y2="117.6" stroke="#000" stroke-width="1"/>
<text x="471.52" y="124.9" font-size="6.2" font-weight="bold" text-anchor="middle">48</text>
<text x="429.4" y="132.4" font-size="6.6" font-weight="bold" text-anchor="middle">Time (h)</text>
<text x="352.4" y="73.2" font-size="7" font-weight="bold" text-anchor="middle" transform="rotate(-90 352.4 73.2)" textLength="79.5" lengthAdjust="spacingAndGlyphs">Relative  migratory cells</text>
<text x="429.4" y="27" font-size="8.3" font-weight="bold" text-anchor="middle">Huh7</text>
<rect x="368.4" y="24.6" width="9.4" height="2.8" rx="1.2" fill="#000" stroke="#000" stroke-width="0.45"/>
<text x="382.8" y="27.95" font-size="5.45">Mock</text>
<rect x="368.4" y="29.2" width="9.4" height="2.8" rx="1.2" fill="#9a9a9a" stroke="#000" stroke-width="0.45"/>
<text x="382.8" y="32.55" font-size="5.45">Vehicle</text>
<rect x="368.4" y="34.4" width="9.4" height="2.8" rx="1.2" fill="#262626" stroke="#000" stroke-width="0.45"/>
<text x="382.8" y="37.75" font-size="5.45">Corylin</text>
<rect x="368.4" y="39.9" width="9.4" height="2.8" rx="1.2" fill="#6f6f6f" stroke="#000" stroke-width="0.45"/>
<text x="382.8" y="43.25" font-size="5.45">VP16</text>
<rect x="368.4" y="45.1" width="9.4" height="2.8" rx="1.2" fill="#d6d6d6" stroke="#000" stroke-width="0.45"/>
<text x="382.8" y="48.45" font-size="5.45">Corylin+VP16</text>
<rect x="368.4" y="51.1" width="9.4" height="2.8" rx="1.2" fill="url(#pgrid)" stroke="#000" stroke-width="0.45"/>
<text x="382.8" y="54.45" font-size="5.45">Corylin+VP16+siCTR</text>
<rect x="368.4" y="56.8" width="9.4" height="2.8" rx="1.2" fill="url(#phatch)" stroke="#000" stroke-width="0.45"/>
<text x="382.8" y="60.15" font-size="5.45">Corylin+VP16+siRNA#1</text>
<rect x="368.4" y="62.8" width="9.4" height="2.8" rx="1.2" fill="url(#pcheck)" stroke="#000" stroke-width="0.45"/>
<text x="382.8" y="66.15" font-size="5.45">Corylin+VP16+siRNA#2</text>
<path d="M422.5 90.5V88.4H431.9V106.5" stroke="#333" stroke-width="0.8" fill="none"/>
<text x="427.2" y="89.05" font-size="5" font-weight="bold" text-anchor="middle" fill="#222">***</text>
<path d="M427.2 94.5V92.5H431.9V106.5" stroke="#333" stroke-width="0.8" fill="none"/>
<text x="429.55" y="93.15" font-size="5" font-weight="bold" text-anchor="middle" fill="#222">***</text>
<path d="M436.5 106.5V93.8H445.9V98" stroke="#333" stroke-width="0.8" fill="none"/>
<text x="441.2" y="94.45" font-size="5" font-weight="bold" text-anchor="middle" fill="#222">***</text>
<path d="M436.5 106.5V97.7H441.2V100.5" stroke="#333" stroke-width="0.8" fill="none"/>
<text x="438.85" y="98.35" font-size="5" font-weight="bold" text-anchor="middle" fill="#222">***</text>
<path d="M464.5 75V72.5H473.9V102.5" stroke="#333" stroke-width="0.8" fill="none"/>
<text x="469.2" y="73.15" font-size="5" font-weight="bold" text-anchor="middle" fill="#222">***</text>
<path d="M469.2 94.5V92.5H473.9V102.5" stroke="#333" stroke-width="0.8" fill="none"/>
<text x="471.55" y="93.15" font-size="5" font-weight="bold" text-anchor="middle" fill="#222">***</text>
<path d="M478.5 101.5V87.9H487.9V92.5" stroke="#333" stroke-width="0.8" fill="none"/>
<text x="483.2" y="88.55" font-size="5" font-weight="bold" text-anchor="middle" fill="#222">***</text>
<path d="M478.5 101.5V94.1H483.2V97.5" stroke="#333" stroke-width="0.8" fill="none"/>
<text x="480.85" y="93.5" font-size="4.6" text-anchor="middle" fill="#222">ns</text>
<text transform="translate(489.2 13.7) scale(1.065 1)" font-size="19.4" font-family="Liberation Serif, Times New Roman, serif">(C)</text>
<line x1="528.5" y1="115.3" x2="528.5" y2="31.4" stroke="#000" stroke-width="1"/>
<line x1="526.3" y1="114.5" x2="528.3" y2="114.5" stroke="#000" stroke-width="1"/>
<text x="525.5" y="117.13" font-size="6.2" font-weight="bold" text-anchor="end">0</text>
<line x1="526.3" y1="98.5" x2="528.3" y2="98.5" stroke="#000" stroke-width="1"/>
<text x="525.5" y="100.43" font-size="6.2" font-weight="bold" text-anchor="end">5</text>
<line x1="526.3" y1="81.5" x2="528.3" y2="81.5" stroke="#000" stroke-width="1"/>
<text x="525.5" y="83.73" font-size="6.2" font-weight="bold" text-anchor="end">10</text>
<line x1="526.3" y1="64.5" x2="528.3" y2="64.5" stroke="#000" stroke-width="1"/>
<text x="525.5" y="67.03" font-size="6.2" font-weight="bold" text-anchor="end">15</text>
<line x1="526.3" y1="48.5" x2="528.3" y2="48.5" stroke="#000" stroke-width="1"/>
<text x="525.5" y="50.33" font-size="6.2" font-weight="bold" text-anchor="end">20</text>
<line x1="526.3" y1="31.5" x2="528.3" y2="31.5" stroke="#000" stroke-width="1"/>
<text x="525.5" y="33.63" font-size="6.2" font-weight="bold" text-anchor="end">25</text>
<line x1="527.9" y1="114.5" x2="654" y2="114.5" stroke="#000" stroke-width="1"/>
<rect x="531" y="111.56" width="4.68" height="3.34" fill="#000" stroke="#000" stroke-width="0.5"/>
<rect x="535.68" y="111.56" width="4.68" height="3.34" fill="#9a9a9a" stroke="#000" stroke-width="0.5"/>
<rect x="540.36" y="111.56" width="4.68" height="3.34" fill="#262626" stroke="#000" stroke-width="0.5"/>
<rect x="545.04" y="111.56" width="4.68" height="3.34" fill="#6f6f6f" stroke="#000" stroke-width="0.5"/>
<rect x="549.72" y="111.56" width="4.68" height="3.34" fill="#d6d6d6" stroke="#000" stroke-width="0.5"/>
<rect x="554.4" y="111.56" width="4.68" height="3.34" fill="url(#pgrid)" stroke="#000" stroke-width="0.5"/>
<rect x="559.08" y="111.56" width="4.68" height="3.34" fill="url(#phatch)" stroke="#000" stroke-width="0.5"/>
<rect x="563.76" y="111.56" width="4.68" height="3.34" fill="url(#pcheck)" stroke="#000" stroke-width="0.5"/>
<line x1="549.5" y1="114.9" x2="549.5" y2="116.9" stroke="#000" stroke-width="1"/>
<text x="549.72" y="124.2" font-size="6.2" font-weight="bold" text-anchor="middle">0</text>
<rect x="572.6" y="89.85" width="4.68" height="25.05" fill="#000" stroke="#000" stroke-width="0.5"/>
<line x1="574.94" y1="89.85" x2="574.94" y2="89.18" stroke="#000" stroke-width="0.6"/>
<line x1="573.74" y1="89.18" x2="576.14" y2="89.18" stroke="#000" stroke-width="0.6"/>
<rect x="577.28" y="91.19" width="4.68" height="23.71" fill="#9a9a9a" stroke="#000" stroke-width="0.5"/>
<line x1="579.62" y1="91.19" x2="579.62" y2="88.51" stroke="#000" stroke-width="0.6"/>
<line x1="578.42" y1="88.51" x2="580.82" y2="88.51" stroke="#000" stroke-width="0.6"/>
<rect x="581.96" y="99.2" width="4.68" height="15.7" fill="#262626" stroke="#000" stroke-width="0.5"/>
<line x1="584.3" y1="99.2" x2="584.3" y2="98.53" stroke="#000" stroke-width="0.6"/>
<line x1="583.1" y1="98.53" x2="585.5" y2="98.53" stroke="#000" stroke-width="0.6"/>
<rect x="586.64" y="101.54" width="4.68" height="13.36" fill="#6f6f6f" stroke="#000" stroke-width="0.5"/>
<line x1="588.98" y1="101.54" x2="588.98" y2="100.87" stroke="#000" stroke-width="0.6"/>
<line x1="587.78" y1="100.87" x2="590.18" y2="100.87" stroke="#000" stroke-width="0.6"/>
<rect x="591.32" y="110.22" width="4.68" height="4.68" fill="#d6d6d6" stroke="#000" stroke-width="0.5"/>
<line x1="593.66" y1="110.22" x2="593.66" y2="109.89" stroke="#000" stroke-width="0.6"/>
<line x1="592.46" y1="109.89" x2="594.86" y2="109.89" stroke="#000" stroke-width="0.6"/>
<rect x="596" y="107.89" width="4.68" height="7.01" fill="url(#pgrid)" stroke="#000" stroke-width="0.5"/>
<line x1="598.34" y1="107.89" x2="598.34" y2="107.55" stroke="#000" stroke-width="0.6"/>
<line x1="597.14" y1="107.55" x2="599.54" y2="107.55" stroke="#000" stroke-width="0.6"/>
<rect x="600.68" y="103.54" width="4.68" height="11.36" fill="url(#phatch)" stroke="#000" stroke-width="0.5"/>
<line x1="603.02" y1="103.54" x2="603.02" y2="102.88" stroke="#000" stroke-width="0.6"/>
<line x1="601.82" y1="102.88" x2="604.22" y2="102.88" stroke="#000" stroke-width="0.6"/>
<rect x="605.36" y="102.54" width="4.68" height="12.36" fill="url(#pcheck)" stroke="#000" stroke-width="0.5"/>
<line x1="607.7" y1="102.54" x2="607.7" y2="101.87" stroke="#000" stroke-width="0.6"/>
<line x1="606.5" y1="101.87" x2="608.9" y2="101.87" stroke="#000" stroke-width="0.6"/>
<line x1="591.5" y1="114.9" x2="591.5" y2="116.9" stroke="#000" stroke-width="1"/>
<text x="591.32" y="124.2" font-size="6.2" font-weight="bold" text-anchor="middle">24</text>
<rect x="614.7" y="53.11" width="4.68" height="61.79" fill="#000" stroke="#000" stroke-width="0.5"/>
<line x1="617.04" y1="53.11" x2="617.04" y2="49.1" stroke="#000" stroke-width="0.6"/>
<line x1="615.84" y1="49.1" x2="618.24" y2="49.1" stroke="#000" stroke-width="0.6"/>
<rect x="619.38" y="60.46" width="4.68" height="54.44" fill="#9a9a9a" stroke="#000" stroke-width="0.5"/>
<line x1="621.72" y1="60.46" x2="621.72" y2="58.79" stroke="#000" stroke-width="0.6"/>
<line x1="620.52" y1="58.79" x2="622.92" y2="58.79" stroke="#000" stroke-width="0.6"/>
<rect x="624.06" y="80.5" width="4.68" height="34.4" fill="#262626" stroke="#000" stroke-width="0.5"/>
<line x1="626.4" y1="80.5" x2="626.4" y2="79.83" stroke="#000" stroke-width="0.6"/>
<line x1="625.2" y1="79.83" x2="627.6" y2="79.83" stroke="#000" stroke-width="0.6"/>
<rect x="628.74" y="94.19" width="4.68" height="20.71" fill="#6f6f6f" stroke="#000" stroke-width="0.5"/>
<line x1="631.08" y1="94.19" x2="631.08" y2="93.52" stroke="#000" stroke-width="0.6"/>
<line x1="629.88" y1="93.52" x2="632.28" y2="93.52" stroke="#000" stroke-width="0.6"/>
<rect x="633.42" y="109.22" width="4.68" height="5.68" fill="#d6d6d6" stroke="#000" stroke-width="0.5"/>
<line x1="635.76" y1="109.22" x2="635.76" y2="108.89" stroke="#000" stroke-width="0.6"/>
<line x1="634.56" y1="108.89" x2="636.96" y2="108.89" stroke="#000" stroke-width="0.6"/>
<rect x="638.1" y="108.55" width="4.68" height="6.35" fill="url(#pgrid)" stroke="#000" stroke-width="0.5"/>
<line x1="640.44" y1="108.55" x2="640.44" y2="108.22" stroke="#000" stroke-width="0.6"/>
<line x1="639.24" y1="108.22" x2="641.64" y2="108.22" stroke="#000" stroke-width="0.6"/>
<rect x="642.78" y="99.87" width="4.68" height="15.03" fill="url(#phatch)" stroke="#000" stroke-width="0.5"/>
<line x1="645.12" y1="99.87" x2="645.12" y2="98.87" stroke="#000" stroke-width="0.6"/>
<line x1="643.92" y1="98.87" x2="646.32" y2="98.87" stroke="#000" stroke-width="0.6"/>
<rect x="647.46" y="96.86" width="4.68" height="18.04" fill="url(#pcheck)" stroke="#000" stroke-width="0.5"/>
<line x1="649.8" y1="96.86" x2="649.8" y2="95.86" stroke="#000" stroke-width="0.6"/>
<line x1="648.6" y1="95.86" x2="651" y2="95.86" stroke="#000" stroke-width="0.6"/>
<line x1="633.5" y1="114.9" x2="633.5" y2="116.9" stroke="#000" stroke-width="1"/>
<text x="633.42" y="124.2" font-size="6.2" font-weight="bold" text-anchor="middle">48</text>
<text x="588.5" y="131.7" font-size="6.6" font-weight="bold" text-anchor="middle">Time (h)</text>
<text x="514.3" y="72.5" font-size="7" font-weight="bold" text-anchor="middle" transform="rotate(-90 514.3 72.5)" textLength="83" lengthAdjust="spacingAndGlyphs">Relative  invasive cells</text>
<text x="591.4" y="29.9" font-size="8.3" font-weight="bold" text-anchor="middle">Huh7</text>
<rect x="530.1" y="31.8" width="9.4" height="2.8" rx="1.2" fill="#000" stroke="#000" stroke-width="0.45"/>
<text x="544" y="35.15" font-size="5.6">Mock</text>
<rect x="530.1" y="37.5" width="9.4" height="2.8" rx="1.2" fill="#9a9a9a" stroke="#000" stroke-width="0.45"/>
<text x="544" y="40.85" font-size="5.6">Vehicle</text>
<rect x="530.1" y="43.5" width="9.4" height="2.8" rx="1.2" fill="#262626" stroke="#000" stroke-width="0.45"/>
<text x="544" y="46.85" font-size="5.6">Corylin</text>
<rect x="530.1" y="49" width="9.4" height="2.8" rx="1.2" fill="#6f6f6f" stroke="#000" stroke-width="0.45"/>
<text x="544" y="52.35" font-size="5.6">VP16</text>
<rect x="530.1" y="54.8" width="9.4" height="2.8" rx="1.2" fill="#d6d6d6" stroke="#000" stroke-width="0.45"/>
<text x="544" y="58.15" font-size="5.6">Corylin+VP16</text>
<rect x="530.1" y="61.3" width="9.4" height="2.8" rx="1.2" fill="url(#pgrid)" stroke="#000" stroke-width="0.45"/>
<text x="544" y="64.65" font-size="5.6">Corylin+VP16+siCTR</text>
<rect x="530.1" y="67.2" width="9.4" height="2.8" rx="1.2" fill="url(#phatch)" stroke="#000" stroke-width="0.45"/>
<text x="544" y="70.55" font-size="5.6">Corylin+VP16+siRNA#1</text>
<rect x="530.1" y="73" width="9.4" height="2.8" rx="1.2" fill="url(#pcheck)" stroke="#000" stroke-width="0.45"/>
<text x="544" y="76.35" font-size="5.6">Corylin+VP16+siRNA#2</text>
<path d="M584.3 97.5V93.8H593.7V108.5" stroke="#333" stroke-width="0.8" fill="none"/>
<text x="589" y="94.45" font-size="5" font-weight="bold" text-anchor="middle" fill="#222">***</text>
<path d="M589 99.8V97.7H593.7V108.5" stroke="#333" stroke-width="0.8" fill="none"/>
<text x="591.35" y="98.35" font-size="5" font-weight="bold" text-anchor="middle" fill="#222">***</text>
<path d="M598.3 106V96.6H607.7V100.5" stroke="#333" stroke-width="0.8" fill="none"/>
<text x="603" y="97.25" font-size="5" font-weight="bold" text-anchor="middle" fill="#222">***</text>
<path d="M598.3 106V100.6H603V102" stroke="#333" stroke-width="0.8" fill="none"/>
<text x="600.65" y="100" font-size="4.6" text-anchor="middle" fill="#222">ns</text>
<path d="M626.4 78.8V76.4H635.8V107.5" stroke="#333" stroke-width="0.8" fill="none"/>
<text x="631.1" y="77.05" font-size="5" font-weight="bold" text-anchor="middle" fill="#222">***</text>
<path d="M631.1 92.5V90.5H635.8V107.5" stroke="#333" stroke-width="0.8" fill="none"/>
<text x="633.45" y="89.9" font-size="4.6" text-anchor="middle" fill="#222">ns</text>
<path d="M640.4 107V93.3H649.8V95" stroke="#333" stroke-width="0.8" fill="none"/>
<text x="645.1" y="93.95" font-size="5" font-weight="bold" text-anchor="middle" fill="#222">***</text>
<path d="M640.4 107V96.6H645.1V98.5" stroke="#333" stroke-width="0.8" fill="none"/>
<text x="642.75" y="97.25" font-size="5" font-weight="bold" text-anchor="middle" fill="#222">***</text>
<text transform="translate(0.15 162.8) scale(1.065 1)" font-size="19.4" font-family="Liberation Serif, Times New Roman, serif">(D)</text>
<line x1="36.5" y1="251" x2="36.5" y2="174.4" stroke="#000" stroke-width="1"/>
<line x1="35.1" y1="250.5" x2="36.9" y2="250.5" stroke="#000" stroke-width="1"/>
<text x="34.3" y="252.54" font-size="5.4" font-weight="bold" text-anchor="end">0</text>
<line x1="35.1" y1="225.5" x2="36.9" y2="225.5" stroke="#000" stroke-width="1"/>
<text x="34.3" y="227.14" font-size="5.4" font-weight="bold" text-anchor="end">20</text>
<line x1="35.1" y1="199.5" x2="36.9" y2="199.5" stroke="#000" stroke-width="1"/>
<text x="34.3" y="201.74" font-size="5.4" font-weight="bold" text-anchor="end">40</text>
<line x1="35.1" y1="174.5" x2="36.9" y2="174.5" stroke="#000" stroke-width="1"/>
<text x="34.3" y="176.34" font-size="5.4" font-weight="bold" text-anchor="end">60</text>
<line x1="36.5" y1="250.5" x2="154.2" y2="250.5" stroke="#000" stroke-width="1"/>
<rect x="40.9" y="243.87" width="11" height="6.73" fill="#111" stroke="#000" stroke-width="0.6"/>
<line x1="46.4" y1="243.87" x2="46.4" y2="243.11" stroke="#000" stroke-width="0.8"/>
<line x1="44.2" y1="243.11" x2="48.6" y2="243.11" stroke="#000" stroke-width="0.8"/>
<line x1="46.4" y1="250.6" x2="46.4" y2="252.2" stroke="#000" stroke-width="0.8"/>
<rect x="57.5" y="238.03" width="11" height="12.57" fill="#9a9a9a" stroke="#000" stroke-width="0.6"/>
<line x1="63" y1="238.03" x2="63" y2="235.11" stroke="#000" stroke-width="0.8"/>
<line x1="60.8" y1="235.11" x2="65.2" y2="235.11" stroke="#000" stroke-width="0.8"/>
<line x1="63" y1="250.6" x2="63" y2="252.2" stroke="#000" stroke-width="0.8"/>
<rect x="74" y="214.02" width="11" height="36.58" fill="#1e1e1e" stroke="#000" stroke-width="0.6"/>
<line x1="79.5" y1="214.02" x2="79.5" y2="208.94" stroke="#000" stroke-width="0.8"/>
<line x1="77.3" y1="208.94" x2="81.7" y2="208.94" stroke="#000" stroke-width="0.8"/>
<line x1="79.5" y1="250.6" x2="79.5" y2="252.2" stroke="#000" stroke-width="0.8"/>
<rect x="90.7" y="190.66" width="11" height="59.94" fill="#7a7a7a" stroke="#000" stroke-width="0.6"/>
<line x1="96.2" y1="190.66" x2="96.2" y2="177.58" stroke="#000" stroke-width="0.8"/>
<line x1="94" y1="177.58" x2="98.4" y2="177.58" stroke="#000" stroke-width="0.8"/>
<line x1="96.2" y1="250.6" x2="96.2" y2="252.2" stroke="#000" stroke-width="0.8"/>
<rect x="107.3" y="196.37" width="11" height="54.23" fill="#d2d2d2" stroke="#000" stroke-width="0.6"/>
<line x1="112.8" y1="196.37" x2="112.8" y2="195.48" stroke="#000" stroke-width="0.8"/>
<line x1="110.6" y1="195.48" x2="115" y2="195.48" stroke="#000" stroke-width="0.8"/>
<line x1="112.8" y1="250.6" x2="112.8" y2="252.2" stroke="#000" stroke-width="0.8"/>
<rect x="123.4" y="214.41" width="11" height="36.19" fill="url(#pgrid)" stroke="#000" stroke-width="0.6"/>
<line x1="128.9" y1="214.41" x2="128.9" y2="214.02" stroke="#000" stroke-width="0.8"/>
<line x1="126.7" y1="214.02" x2="131.1" y2="214.02" stroke="#000" stroke-width="0.8"/>
<line x1="128.9" y1="250.6" x2="128.9" y2="252.2" stroke="#000" stroke-width="0.8"/>
<rect x="140.2" y="219.48" width="11" height="31.12" fill="url(#pcheckD)" stroke="#000" stroke-width="0.6"/>
<line x1="145.7" y1="219.48" x2="145.7" y2="217.96" stroke="#000" stroke-width="0.8"/>
<line x1="143.5" y1="217.96" x2="147.9" y2="217.96" stroke="#000" stroke-width="0.8"/>
<line x1="145.7" y1="250.6" x2="145.7" y2="252.2" stroke="#000" stroke-width="0.8"/>
<text x="46.6" y="259" font-size="5.75" font-weight="bold" text-anchor="end" transform="rotate(-45 46.6 259)">Vehicle</text>
<text x="63.2" y="259" font-size="5.75" font-weight="bold" text-anchor="end" transform="rotate(-45 63.2 259)">Corylin</text>
<text x="79.7" y="259" font-size="5.75" font-weight="bold" text-anchor="end" transform="rotate(-45 79.7 259)">VP16</text>
<text x="96.4" y="259" font-size="5.75" font-weight="bold" text-anchor="end" transform="rotate(-45 96.4 259)">Corylin+VP16</text>
<text x="113" y="259" font-size="5.75" font-weight="bold" text-anchor="end" transform="rotate(-45 113 259)">Corylin+VP16+siCTR</text>
<text x="129.1" y="259" font-size="5.75" font-weight="bold" text-anchor="end" transform="rotate(-45 129.1 259)">Corylin+VP16+siRNA#1</text>
<text x="145.9" y="259" font-size="5.75" font-weight="bold" text-anchor="end" transform="rotate(-45 145.9 259)">Corylin+VP16+siRNA#2</text>
<text x="23.6" y="214" font-size="6.9" font-weight="bold" text-anchor="middle" transform="rotate(-90 23.6 214)">Apoptotic cells (%)</text>
<path d="M63.5 236.5V168.5H97.3V174.6" stroke="#333" stroke-width="0.8" fill="none"/>
<text x="80.4" y="169.61" font-size="6.3" font-weight="bold" text-anchor="middle" fill="#222">*</text>
<path d="M79.5 207.4V173.4H95.9V175.5" stroke="#333" stroke-width="0.8" fill="none"/>
<text x="87.7" y="174.51" font-size="6.3" font-weight="bold" text-anchor="middle" fill="#222">**</text>
<path d="M111.6 194.8V187.7H146.2V216" stroke="#333" stroke-width="0.8" fill="none"/>
<text x="128.9" y="188.81" font-size="6.3" font-weight="bold" text-anchor="middle" fill="#222">***</text>
<path d="M111.9 194.8V191.4H129.5V213.5" stroke="#333" stroke-width="0.8" fill="none"/>
<text x="120.7" y="192.51" font-size="6.3" font-weight="bold" text-anchor="middle" fill="#222">***</text>
<text transform="translate(147.4 162.5) scale(1.065 1)" font-size="19.4" font-family="Liberation Serif, Times New Roman, serif">(E)</text>
<line x1="187.5" y1="250.2" x2="187.5" y2="184.55" stroke="#000" stroke-width="1"/>
<line x1="186.1" y1="249.5" x2="187.9" y2="249.5" stroke="#000" stroke-width="1"/>
<text x="185.3" y="251.46" font-size="4.6" font-weight="bold" text-anchor="end">0.0</text>
<line x1="186.1" y1="228.5" x2="187.9" y2="228.5" stroke="#000" stroke-width="1"/>
<text x="185.3" y="229.71" font-size="4.6" font-weight="bold" text-anchor="end">0.5</text>
<line x1="186.1" y1="206.5" x2="187.9" y2="206.5" stroke="#000" stroke-width="1"/>
<text x="185.3" y="207.96" font-size="4.6" font-weight="bold" text-anchor="end">1.0</text>
<line x1="186.1" y1="184.5" x2="187.9" y2="184.5" stroke="#000" stroke-width="1"/>
<text x="185.3" y="186.21" font-size="4.6" font-weight="bold" text-anchor="end">1.5</text>
<line x1="187.5" y1="249.5" x2="286" y2="249.5" stroke="#000" stroke-width="1"/>
<rect x="193.3" y="206.3" width="21.5" height="43.5" fill="#000" stroke="#000" stroke-width="0.6"/>
<line x1="204.5" y1="206.3" x2="204.5" y2="205.43" stroke="#000" stroke-width="1"/>
<line x1="199.55" y1="205.5" x2="208.55" y2="205.5" stroke="#000" stroke-width="1"/>
<line x1="204.05" y1="249.8" x2="204.05" y2="251.4" stroke="#000" stroke-width="0.8"/>
<rect x="226" y="214.56" width="21.5" height="35.24" fill="#9a9a9a" stroke="#000" stroke-width="0.6"/>
<line x1="236.5" y1="214.56" x2="236.5" y2="214.35" stroke="#000" stroke-width="1"/>
<line x1="232.25" y1="214.5" x2="241.25" y2="214.5" stroke="#000" stroke-width="1"/>
<line x1="236.75" y1="249.8" x2="236.75" y2="251.4" stroke="#000" stroke-width="0.8"/>
<rect x="258.7" y="228.05" width="21.5" height="21.75" fill="#777" stroke="#000" stroke-width="0.6"/>
<line x1="269.5" y1="228.05" x2="269.5" y2="216.31" stroke="#000" stroke-width="1"/>
<line x1="264.95" y1="216.5" x2="273.95" y2="216.5" stroke="#000" stroke-width="1"/>
<line x1="269.45" y1="249.8" x2="269.45" y2="251.4" stroke="#000" stroke-width="0.8"/>
<text x="205.4" y="256.3" font-size="5" font-weight="bold" text-anchor="end" transform="rotate(-45 205.4 256.3)">siCTR</text>
<text x="238.1" y="256.3" font-size="5" font-weight="bold" text-anchor="end" transform="rotate(-45 238.1 256.3)">siRAD51-AS1#1</text>
<text x="270.8" y="256.3" font-size="5" font-weight="bold" text-anchor="end" transform="rotate(-45 270.8 256.3)">siRAD51-AS1#2</text>
<text x="168" y="214.7" font-size="6.6" font-weight="bold" text-anchor="middle" transform="rotate(-90 168 214.7)">Relative RAD51-AS1 level</text>
<text x="174.9" y="216.2" font-size="6.6" font-weight="bold" text-anchor="middle" transform="rotate(-90 174.9 216.2)">(normalized to GAPDH)</text>
<path d="M203.1 203.4V195.5H269.6V213.3" stroke="#333" stroke-width="0.8" fill="none"/>
<text x="236.35" y="196.36" font-size="5.6" font-weight="bold" text-anchor="middle" fill="#222">***</text>
<path d="M204.9 203.4V200.4H237.4V212" stroke="#333" stroke-width="0.8" fill="none"/>
<text x="221.15" y="201.26" font-size="5.6" font-weight="bold" text-anchor="middle" fill="#222">***</text>
<text transform="translate(279.2 162.8) scale(1.065 1)" font-size="19.4" font-family="Liberation Serif, Times New Roman, serif">(F)</text>
<rect x="316.9" y="206" width="170.4" height="17.5" fill="#b4b4b4"/>
<rect x="316.9" y="223.5" width="170.4" height="2.1" fill="#dadada"/>
<rect x="316.9" y="225.6" width="170.4" height="17.6" fill="#b9b9b9"/>
<rect x="321.7" y="211.7" width="22.2" height="7.4" rx="5.18" ry="3.7" fill="#2a2a2a" opacity="1" filter="url(#blur4)"/>
<rect x="321.7" y="232" width="22.2" height="7.2" rx="5.04" ry="3.6" fill="#2a2a2a" opacity="1" filter="url(#blur4)"/>
<rect x="344.5" y="211.7" width="19.6" height="7.4" rx="5.18" ry="3.7" fill="#2a2a2a" opacity="1" filter="url(#blur4)"/>
<rect x="344.5" y="232" width="19.6" height="7.2" rx="5.04" ry="3.6" fill="#2a2a2a" opacity="1" filter="url(#blur4)"/>
<rect x="364.7" y="212.3" width="20" height="6.2" rx="4.34" ry="3.1" fill="#2a2a2a" opacity="1" filter="url(#blur4)"/>
<rect x="364.7" y="232" width="20" height="7.2" rx="5.04" ry="3.6" fill="#2a2a2a" opacity="1" filter="url(#blur4)"/>
<rect x="385" y="212.8" width="19.1" height="4.4" rx="3.08" ry="2.2" fill="#2a2a2a" opacity="1" filter="url(#blur4)"/>
<rect x="385" y="232" width="19.1" height="7.2" rx="5.04" ry="3.6" fill="#2a2a2a" opacity="1" filter="url(#blur4)"/>
<rect x="405.7" y="213" width="18.6" height="4" rx="2.8" ry="2" fill="#2a2a2a" opacity="1" filter="url(#blur4)"/>
<rect x="405.7" y="232" width="18.6" height="7.2" rx="5.04" ry="3.6" fill="#2a2a2a" opacity="1" filter="url(#blur4)"/>
<rect x="426.1" y="213" width="17.8" height="4" rx="2.8" ry="2" fill="#2a2a2a" opacity="1" filter="url(#blur4)"/>
<rect x="426.1" y="232" width="17.8" height="7.2" rx="5.04" ry="3.6" fill="#2a2a2a" opacity="1" filter="url(#blur4)"/>
<rect x="445.9" y="212.6" width="18.6" height="4.8" rx="3.36" ry="2.4" fill="#2a2a2a" opacity="1" filter="url(#blur4)"/>
<rect x="445.9" y="232" width="18.6" height="7.2" rx="5.04" ry="3.6" fill="#2a2a2a" opacity="1" filter="url(#blur4)"/>
<rect x="465.9" y="212.6" width="19.6" height="4.8" rx="3.36" ry="2.4" fill="#2a2a2a" opacity="1" filter="url(#blur4)"/>
<rect x="465.9" y="232" width="19.6" height="7.2" rx="5.04" ry="3.6" fill="#2a2a2a" opacity="1" filter="url(#blur4)"/>
<text x="315.9" y="218" font-size="6.7" font-weight="bold" text-anchor="end">RAD51</text>
<text x="315.9" y="238.3" font-size="6.6" font-weight="bold" text-anchor="end"><tspan font-style="italic" font-weight="normal" font-family="Liberation Serif, serif" font-size="7.4">β</tspan> - actin</text>
<text x="332.7" y="205.2" font-size="6" text-anchor="middle" stroke="#000" stroke-width="0.05">Mock</text>
<text x="353.5" y="205.2" font-size="6" text-anchor="middle" stroke="#000" stroke-width="0.05">Vehicle</text>
<text x="374.3" y="205.2" font-size="6" text-anchor="middle" stroke="#000" stroke-width="0.05">Corylin</text>
<text x="395.3" y="205.2" font-size="6" text-anchor="middle" stroke="#000" stroke-width="0.05">VP16</text>
<text x="414.8" y="205.2" font-size="6" text-anchor="middle" stroke="#000" stroke-width="0.05">NT</text>
<text x="434.6" y="205.2" font-size="6" text-anchor="middle" stroke="#000" stroke-width="0.05">siCTR</text>
<text x="460.3" y="196.4" font-size="6.2" text-anchor="middle" transform="rotate(-45 460.3 196.4)">siRAD51</text>
<text x="463.5" y="201.4" font-size="6.2" text-anchor="middle" transform="rotate(-45 463.5 201.4)">-AS1#1</text>
<text x="480" y="197.2" font-size="6.2" text-anchor="middle" transform="rotate(-45 480 197.2)">siRAD51</text>
<text x="484.5" y="202" font-size="6.2" text-anchor="middle" transform="rotate(-45 484.5 202)">-AS1#2</text>
<text x="454.4" y="182.2" font-size="6.8" text-anchor="middle">Corylin+VP16</text>
<line x1="405.9" y1="183.8" x2="493.8" y2="183.8" stroke="#777" stroke-width="0.8"/>
<text x="488.4" y="218" font-size="6.6">37KDa</text>
<text x="488.4" y="237.4" font-size="6.6">43KDa</text>
<line x1="542.5" y1="241" x2="542.5" y2="162.9" stroke="#000" stroke-width="1"/>
<line x1="540.2" y1="240.5" x2="542" y2="240.5" stroke="#000" stroke-width="1"/>
<text x="539.4" y="242.51" font-size="5.3" font-weight="bold" text-anchor="end">0.0</text>
<line x1="540.2" y1="214.5" x2="542" y2="214.5" stroke="#000" stroke-width="1"/>
<text x="539.4" y="216.61" font-size="5.3" font-weight="bold" text-anchor="end">0.5</text>
<line x1="540.2" y1="188.5" x2="542" y2="188.5" stroke="#000" stroke-width="1"/>
<text x="539.4" y="190.71" font-size="5.3" font-weight="bold" text-anchor="end">1.0</text>
<line x1="540.2" y1="162.5" x2="542" y2="162.5" stroke="#000" stroke-width="1"/>
<text x="539.4" y="164.81" font-size="5.3" font-weight="bold" text-anchor="end">1.5</text>
<line x1="541.6" y1="240.5" x2="659" y2="240.5" stroke="#000" stroke-width="1"/>
<rect x="544.9" y="188.8" width="9.5" height="51.8" fill="#000" stroke="#000" stroke-width="0.5"/>
<line x1="549.65" y1="188.8" x2="549.65" y2="187.98" stroke="#000" stroke-width="0.6"/>
<line x1="547.85" y1="187.98" x2="551.45" y2="187.98" stroke="#000" stroke-width="0.6"/>
<line x1="549.65" y1="240.6" x2="549.65" y2="242.2" stroke="#000" stroke-width="0.8"/>
<rect x="559.4" y="188.8" width="9.5" height="51.8" fill="#9a9a9a" stroke="#000" stroke-width="0.5"/>
<line x1="564.15" y1="188.8" x2="564.15" y2="187.72" stroke="#000" stroke-width="0.6"/>
<line x1="562.35" y1="187.72" x2="565.95" y2="187.72" stroke="#000" stroke-width="0.6"/>
<line x1="564.15" y1="240.6" x2="564.15" y2="242.2" stroke="#000" stroke-width="0.8"/>
<rect x="573.9" y="201.75" width="9.5" height="38.85" fill="#262626" stroke="#000" stroke-width="0.5"/>
<line x1="578.65" y1="201.75" x2="578.65" y2="200.93" stroke="#000" stroke-width="0.6"/>
<line x1="576.85" y1="200.93" x2="580.45" y2="200.93" stroke="#000" stroke-width="0.6"/>
<line x1="578.65" y1="240.6" x2="578.65" y2="242.2" stroke="#000" stroke-width="0.8"/>
<rect x="588.4" y="211.59" width="9.5" height="29.01" fill="#6f6f6f" stroke="#000" stroke-width="0.5"/>
<line x1="593.15" y1="211.59" x2="593.15" y2="210.77" stroke="#000" stroke-width="0.6"/>
<line x1="591.35" y1="210.77" x2="594.95" y2="210.77" stroke="#000" stroke-width="0.6"/>
<line x1="593.15" y1="240.6" x2="593.15" y2="242.2" stroke="#000" stroke-width="0.8"/>
<rect x="602.9" y="220.66" width="9.5" height="19.94" fill="#d6d6d6" stroke="#000" stroke-width="0.5"/>
<line x1="607.65" y1="220.66" x2="607.65" y2="219.84" stroke="#000" stroke-width="0.6"/>
<line x1="605.85" y1="219.84" x2="609.45" y2="219.84" stroke="#000" stroke-width="0.6"/>
<line x1="607.65" y1="240.6" x2="607.65" y2="242.2" stroke="#000" stroke-width="0.8"/>
<rect x="617.4" y="223.51" width="9.5" height="17.09" fill="url(#pgrid)" stroke="#000" stroke-width="0.5"/>
<line x1="622.15" y1="223.51" x2="622.15" y2="222.69" stroke="#000" stroke-width="0.6"/>
<line x1="620.35" y1="222.69" x2="623.95" y2="222.69" stroke="#000" stroke-width="0.6"/>
<line x1="622.15" y1="240.6" x2="622.15" y2="242.2" stroke="#000" stroke-width="0.8"/>
<rect x="631.9" y="217.81" width="9.5" height="22.79" fill="url(#phatch)" stroke="#000" stroke-width="0.5"/>
<line x1="636.65" y1="217.81" x2="636.65" y2="216.99" stroke="#000" stroke-width="0.6"/>
<line x1="634.85" y1="216.99" x2="638.45" y2="216.99" stroke="#000" stroke-width="0.6"/>
<line x1="636.65" y1="240.6" x2="636.65" y2="242.2" stroke="#000" stroke-width="0.8"/>
<rect x="646.4" y="214.7" width="9.5" height="25.9" fill="url(#pcheck)" stroke="#000" stroke-width="0.5"/>
<line x1="651.15" y1="214.7" x2="651.15" y2="214.14" stroke="#000" stroke-width="0.6"/>
<line x1="649.35" y1="214.14" x2="652.95" y2="214.14" stroke="#000" stroke-width="0.6"/>
<line x1="651.15" y1="240.6" x2="651.15" y2="242.2" stroke="#000" stroke-width="0.8"/>
<text x="550.65" y="248.4" font-size="5.8" font-weight="bold" text-anchor="end" transform="rotate(-45 550.65 248.4)">Mock</text>
<text x="565.15" y="248.4" font-size="5.8" font-weight="bold" text-anchor="end" transform="rotate(-45 565.15 248.4)">Vehicle</text>
<text x="579.65" y="248.4" font-size="5.8" font-weight="bold" text-anchor="end" transform="rotate(-45 579.65 248.4)">Corylin</text>
<text x="594.15" y="248.4" font-size="5.8" font-weight="bold" text-anchor="end" transform="rotate(-45 594.15 248.4)">VP16</text>
<text x="608.65" y="248.4" font-size="5.8" font-weight="bold" text-anchor="end" transform="rotate(-45 608.65 248.4)">Corylin+VP16</text>
<text x="623.15" y="248.4" font-size="5.8" font-weight="bold" text-anchor="end" transform="rotate(-45 623.15 248.4)">Corylin+VP16+siCTR</text>
<text x="637.65" y="248.4" font-size="5.8" font-weight="bold" text-anchor="end" transform="rotate(-45 637.65 248.4)">Corylin+VP16+siRNA#1</text>
<text x="652.15" y="248.4" font-size="5.8" font-weight="bold" text-anchor="end" transform="rotate(-45 652.15 248.4)">Corylin+VP16+siRNA#2</text>
<text x="518.8" y="202.2" font-size="7.2" font-weight="bold" text-anchor="middle" transform="rotate(-90 518.8 202.2)">Relative RAD51 level</text>
<text x="527.7" y="202.2" font-size="7.2" font-weight="bold" text-anchor="middle" transform="rotate(-90 527.7 202.2)">(normalized to β-actin)</text>
<path d="M578.1 201.6V199.2H608.5V218.6" stroke="#333" stroke-width="0.8" fill="none"/>
<text x="593.3" y="200.13" font-size="5.8" font-weight="bold" text-anchor="middle" fill="#222">***</text>
<path d="M592.3 211V208.1H607.2V218.6" stroke="#333" stroke-width="0.8" fill="none"/>
<text x="599.75" y="209.03" font-size="5.8" font-weight="bold" text-anchor="middle" fill="#222">***</text>
<path d="M620.3 222.9V210.4H651.2V214.3" stroke="#333" stroke-width="0.8" fill="none"/>
<text x="635.75" y="211.33" font-size="5.8" font-weight="bold" text-anchor="middle" fill="#222">***</text>
<path d="M622.3 222.9V215H636.4V217.6" stroke="#333" stroke-width="0.8" fill="none"/>
<text x="629.35" y="215.93" font-size="5.8" font-weight="bold" text-anchor="middle" fill="#222">***</text>
<text transform="translate(0.15 324) scale(1.065 1)" font-size="19.4" font-family="Liberation Serif, Times New Roman, serif">(G)</text>
<rect x="32.8" y="371.1" width="262.1" height="77.6" fill="#cfcfcf"/>
<rect x="32.8" y="371.1" width="32.4" height="24.4" fill="#070a1a"/>
<g>
<ellipse cx="43.64" cy="375.48" rx="2.98" ry="1.34" fill="#4656b0" opacity="0.59" filter="url(#blur5)"/>
<ellipse cx="44.92" cy="373.4" rx="2.81" ry="1.32" fill="#4656b0" opacity="0.55" filter="url(#blur5)"/>
<ellipse cx="35.92" cy="374.13" rx="2.71" ry="1.8" fill="#4656b0" opacity="0.44" filter="url(#blur5)"/>
<ellipse cx="40.59" cy="386.15" rx="3.34" ry="1.65" fill="#4656b0" opacity="0.54" filter="url(#blur5)"/>
<ellipse cx="63.48" cy="373.14" rx="3.23" ry="1.47" fill="#4656b0" opacity="0.45" filter="url(#blur5)"/>
<ellipse cx="37.38" cy="379.01" rx="3.18" ry="1.41" fill="#4656b0" opacity="0.6" filter="url(#blur5)"/>
<ellipse cx="53.22" cy="380.44" rx="2.86" ry="1.34" fill="#4656b0" opacity="0.42" filter="url(#blur5)"/>
<ellipse cx="40.06" cy="387.34" rx="2.71" ry="1.49" fill="#4656b0" opacity="0.6" filter="url(#blur5)"/>
<ellipse cx="47.58" cy="378.81" rx="3.15" ry="1.72" fill="#4656b0" opacity="0.49" filter="url(#blur5)"/>
<ellipse cx="51.26" cy="383.86" rx="3.25" ry="1.74" fill="#4656b0" opacity="0.5" filter="url(#blur5)"/>
<ellipse cx="63.6" cy="374.74" rx="2.7" ry="1.75" fill="#4656b0" opacity="0.45" filter="url(#blur5)"/>
<circle cx="48.68" cy="373.44" r="0.87" fill="#4a5ab0" opacity="0.8" filter="url(#blur3)"/>
<circle cx="60.04" cy="379.31" r="0.88" fill="#4a5ab0" opacity="0.77" filter="url(#blur3)"/>
</g>
<rect x="32.8" y="396.9" width="32.4" height="24.7" fill="#070a1a"/>
<g>
<ellipse cx="58.03" cy="399.46" rx="2.31" ry="1.46" fill="#4656b0" opacity="0.64" filter="url(#blur5)"/>
<ellipse cx="35.78" cy="414.5" rx="2.57" ry="1.65" fill="#4656b0" opacity="0.64" filter="url(#blur5)"/>
<ellipse cx="47.35" cy="414.17" rx="3.26" ry="1.51" fill="#4656b0" opacity="0.73" filter="url(#blur5)"/>
<ellipse cx="44.61" cy="411.77" rx="2.79" ry="1.43" fill="#4656b0" opacity="0.5" filter="url(#blur5)"/>
<ellipse cx="56.25" cy="406.93" rx="3.3" ry="1.6" fill="#4656b0" opacity="0.46" filter="url(#blur5)"/>
<ellipse cx="46.01" cy="404.21" rx="2.36" ry="1.56" fill="#4656b0" opacity="0.59" filter="url(#blur5)"/>
<ellipse cx="55.27" cy="420.29" rx="3.02" ry="1.53" fill="#4656b0" opacity="0.48" filter="url(#blur5)"/>
<ellipse cx="36.32" cy="401.33" rx="2.99" ry="1.31" fill="#4656b0" opacity="0.69" filter="url(#blur5)"/>
<ellipse cx="39.34" cy="404.3" rx="2.37" ry="1.62" fill="#4656b0" opacity="0.61" filter="url(#blur5)"/>
<ellipse cx="43.49" cy="400.75" rx="3.23" ry="1.87" fill="#4656b0" opacity="0.63" filter="url(#blur5)"/>
<ellipse cx="56.29" cy="408.27" rx="3.25" ry="1.87" fill="#4656b0" opacity="0.64" filter="url(#blur5)"/>
<circle cx="50.74" cy="407.04" r="0.76" fill="#606888" opacity="0.82" filter="url(#blur3)"/>
<circle cx="36.13" cy="399.86" r="0.68" fill="#5868b8" opacity="0.64" filter="url(#blur3)"/>
</g>
<rect x="32.8" y="423.2" width="32.4" height="25.5" fill="#070a1a"/>
<g>
<ellipse cx="52.06" cy="426.61" rx="2.88" ry="1.62" fill="#4656b0" opacity="0.73" filter="url(#blur5)"/>
<ellipse cx="52.46" cy="425.85" rx="2.45" ry="1.53" fill="#4656b0" opacity="0.62" filter="url(#blur5)"/>
<ellipse cx="62.85" cy="438.35" rx="2.77" ry="1.37" fill="#4656b0" opacity="0.57" filter="url(#blur5)"/>
<ellipse cx="63.53" cy="435.49" rx="2.57" ry="1.39" fill="#4656b0" opacity="0.66" filter="url(#blur5)"/>
<ellipse cx="56.31" cy="435.45" rx="3.03" ry="1.61" fill="#4656b0" opacity="0.47" filter="url(#blur5)"/>
<ellipse cx="62.74" cy="432.7" rx="3.03" ry="1.85" fill="#4656b0" opacity="0.67" filter="url(#blur5)"/>
<ellipse cx="42.86" cy="439.31" rx="2.31" ry="1.81" fill="#4656b0" opacity="0.58" filter="url(#blur5)"/>
<ellipse cx="61.41" cy="432.56" rx="2.47" ry="1.62" fill="#4656b0" opacity="0.58" filter="url(#blur5)"/>
<ellipse cx="53.15" cy="438.61" rx="3.15" ry="1.75" fill="#4656b0" opacity="0.47" filter="url(#blur5)"/>
<ellipse cx="41.08" cy="433.62" rx="3.16" ry="1.42" fill="#4656b0" opacity="0.57" filter="url(#blur5)"/>
<ellipse cx="56.02" cy="447.46" rx="3.15" ry="1.58" fill="#4656b0" opacity="0.47" filter="url(#blur5)"/>
<circle cx="52.09" cy="432.45" r="0.92" fill="#4a5ab0" opacity="0.95" filter="url(#blur3)"/>
<circle cx="62.38" cy="432.9" r="0.69" fill="#5868b8" opacity="0.76" filter="url(#blur3)"/>
</g>
<rect x="66.1" y="371.1" width="31.6" height="24.4" fill="#030307"/>
<g>
<circle cx="77.26" cy="382.93" r="0.99" fill="#4a5ab0" opacity="0.89" filter="url(#blur3)"/>
<circle cx="81.31" cy="386.57" r="0.92" fill="#5868b8" opacity="0.89" filter="url(#blur3)"/>
<circle cx="71.03" cy="380.91" r="0.88" fill="#5868b8" opacity="0.77" filter="url(#blur3)"/>
<circle cx="72.71" cy="389.49" r="0.73" fill="#4a5ab0" opacity="0.74" filter="url(#blur3)"/>
<circle cx="79.08" cy="392.86" r="0.89" fill="#5868b8" opacity="0.95" filter="url(#blur3)"/>
<circle cx="68.39" cy="385.24" r="0.79" fill="#4a5ab0" opacity="0.65" filter="url(#blur3)"/>
<circle cx="91.24" cy="393.58" r="0.86" fill="#606888" opacity="0.65" filter="url(#blur3)"/>
<circle cx="83.28" cy="373.06" r="0.92" fill="#4a5ab0" opacity="0.83" filter="url(#blur3)"/>
<circle cx="82.66" cy="392.58" r="0.77" fill="#5868b8" opacity="0.89" filter="url(#blur3)"/>
<circle cx="73.64" cy="377.99" r="0.72" fill="#5868b8" opacity="0.87" filter="url(#blur3)"/>
<circle cx="76.92" cy="384.25" r="0.93" fill="#5868b8" opacity="0.92" filter="url(#blur3)"/>
<circle cx="77.72" cy="382.4" r="0.83" fill="#4a5ab0" opacity="0.75" filter="url(#blur3)"/>
</g>
<rect x="66.1" y="396.9" width="31.6" height="24.7" fill="#030307"/>
<g>
<circle cx="93.85" cy="409.29" r="0.81" fill="#4a5ab0" opacity="0.78" filter="url(#blur3)"/>
<circle cx="92.56" cy="415.25" r="0.84" fill="#5868b8" opacity="0.66" filter="url(#blur3)"/>
<circle cx="81.14" cy="414.14" r="0.82" fill="#606888" opacity="0.84" filter="url(#blur3)"/>
<circle cx="82.78" cy="408.87" r="0.91" fill="#4a5ab0" opacity="0.62" filter="url(#blur3)"/>
<circle cx="73.07" cy="399.32" r="0.64" fill="#606888" opacity="0.8" filter="url(#blur3)"/>
<circle cx="89.34" cy="418.2" r="0.78" fill="#4a5ab0" opacity="0.94" filter="url(#blur3)"/>
<circle cx="84.94" cy="402.73" r="0.71" fill="#4a5ab0" opacity="0.79" filter="url(#blur3)"/>
<circle cx="81.27" cy="418.83" r="0.88" fill="#606888" opacity="0.92" filter="url(#blur3)"/>
<circle cx="93.13" cy="402.8" r="0.78" fill="#606888" opacity="0.64" filter="url(#blur3)"/>
<circle cx="80.24" cy="399.97" r="0.7" fill="#5868b8" opacity="0.67" filter="url(#blur3)"/>
<circle cx="76.26" cy="401.05" r="0.91" fill="#4a5ab0" opacity="0.83" filter="url(#blur3)"/>
<circle cx="78.07" cy="403.89" r="0.65" fill="#606888" opacity="0.68" filter="url(#blur3)"/>
</g>
<rect x="66.1" y="423.2" width="31.6" height="25.5" fill="#030307"/>
<g>
<circle cx="94.84" cy="433.66" r="0.79" fill="#4a5ab0" opacity="0.89" filter="url(#blur3)"/>
<circle cx="72.22" cy="434.41" r="0.81" fill="#606888" opacity="0.75" filter="url(#blur3)"/>
<circle cx="77.8" cy="426.77" r="0.75" fill="#606888" opacity="0.79" filter="url(#blur3)"/>
<circle cx="80.2" cy="425.11" r="0.73" fill="#4a5ab0" opacity="0.7" filter="url(#blur3)"/>
<circle cx="95.08" cy="427.24" r="0.97" fill="#5868b8" opacity="0.94" filter="url(#blur3)"/>
<circle cx="70.6" cy="430.68" r="0.62" fill="#5868b8" opacity="0.69" filter="url(#blur3)"/>
<circle cx="71.31" cy="434.2" r="0.96" fill="#606888" opacity="0.74" filter="url(#blur3)"/>
<circle cx="82.95" cy="436.28" r="0.8" fill="#606888" opacity="0.63" filter="url(#blur3)"/>
<circle cx="69.25" cy="440.18" r="0.77" fill="#5868b8" opacity="0.69" filter="url(#blur3)"/>
<circle cx="68.08" cy="426.69" r="0.7" fill="#4a5ab0" opacity="0.9" filter="url(#blur3)"/>
<circle cx="69.51" cy="444.11" r="0.78" fill="#606888" opacity="0.95" filter="url(#blur3)"/>
<circle cx="79.55" cy="445.3" r="0.85" fill="#5868b8" opacity="0.78" filter="url(#blur3)"/>
</g>
<rect x="98.9" y="371.1" width="32" height="24.4" fill="#04050b"/>
<g>
<circle cx="107.31" cy="374.94" r="0.66" fill="#5868b8" opacity="0.66" filter="url(#blur3)"/>
<circle cx="127.44" cy="386.05" r="0.81" fill="#5868b8" opacity="0.7" filter="url(#blur3)"/>
<circle cx="114.9" cy="376.41" r="0.74" fill="#5868b8" opacity="0.95" filter="url(#blur3)"/>
<circle cx="101.47" cy="372.99" r="0.8" fill="#5868b8" opacity="0.78" filter="url(#blur3)"/>
<circle cx="107.52" cy="382.17" r="0.86" fill="#4a5ab0" opacity="0.75" filter="url(#blur3)"/>
<circle cx="114.76" cy="390.46" r="0.76" fill="#4a5ab0" opacity="0.71" filter="url(#blur3)"/>
<circle cx="106.64" cy="377.51" r="0.68" fill="#4a5ab0" opacity="0.86" filter="url(#blur3)"/>
<circle cx="104.45" cy="393.77" r="0.99" fill="#5868b8" opacity="0.6" filter="url(#blur3)"/>
<circle cx="118.54" cy="391.43" r="0.77" fill="#5868b8" opacity="0.63" filter="url(#blur3)"/>
<circle cx="124.8" cy="391.23" r="0.87" fill="#606888" opacity="0.81" filter="url(#blur3)"/>
<circle cx="120.49" cy="373.57" r="0.67" fill="#606888" opacity="0.76" filter="url(#blur3)"/>
<ellipse cx="108.74" cy="391.8" rx="1.5" ry="1.1" fill="#5060c8" opacity="0.8" filter="url(#blur3)"/>
<ellipse cx="127.19" cy="384.17" rx="1.5" ry="1.1" fill="#5060c8" opacity="0.8" filter="url(#blur3)"/>
</g>
<rect x="98.9" y="396.9" width="32" height="24.7" fill="#04050b"/>
<g>
<circle cx="107.49" cy="419.35" r="0.72" fill="#606888" opacity="0.66" filter="url(#blur3)"/>
<circle cx="110.12" cy="400.22" r="0.71" fill="#4a5ab0" opacity="0.67" filter="url(#blur3)"/>
<circle cx="115.04" cy="398.51" r="0.71" fill="#5868b8" opacity="0.65" filter="url(#blur3)"/>
<circle cx="117.42" cy="406.95" r="0.72" fill="#4a5ab0" opacity="0.68" filter="url(#blur3)"/>
<circle cx="117.38" cy="409.88" r="0.9" fill="#4a5ab0" opacity="0.91" filter="url(#blur3)"/>
<circle cx="123.14" cy="411.35" r="0.91" fill="#4a5ab0" opacity="0.94" filter="url(#blur3)"/>
<circle cx="104.73" cy="414.11" r="0.86" fill="#5868b8" opacity="0.89" filter="url(#blur3)"/>
<circle cx="121.14" cy="409.53" r="0.77" fill="#4a5ab0" opacity="0.88" filter="url(#blur3)"/>
<circle cx="104.44" cy="409.77" r="0.8" fill="#5868b8" opacity="0.89" filter="url(#blur3)"/>
<circle cx="117.34" cy="417.77" r="0.87" fill="#4a5ab0" opacity="0.83" filter="url(#blur3)"/>
<circle cx="102.87" cy="399.31" r="0.85" fill="#5868b8" opacity="0.73" filter="url(#blur3)"/>
<ellipse cx="113.64" cy="400.85" rx="1.5" ry="1.1" fill="#5060c8" opacity="0.8" filter="url(#blur3)"/>
<ellipse cx="102.39" cy="409.84" rx="1.5" ry="1.1" fill="#5060c8" opacity="0.8" filter="url(#blur3)"/>
</g>
<rect x="98.9" y="423.2" width="32" height="25.5" fill="#04050b"/>
<g>
<circle cx="107.49" cy="430.64" r="0.78" fill="#5868b8" opacity="0.86" filter="url(#blur3)"/>
<circle cx="114.99" cy="436.74" r="0.86" fill="#5868b8" opacity="0.86" filter="url(#blur3)"/>
<circle cx="114.14" cy="442.91" r="0.94" fill="#5868b8" opacity="0.86" filter="url(#blur3)"/>
<circle cx="106.35" cy="441.35" r="0.99" fill="#606888" opacity="0.9" filter="url(#blur3)"/>
<circle cx="102.63" cy="445.19" r="0.71" fill="#5868b8" opacity="0.82" filter="url(#blur3)"/>
<circle cx="119.04" cy="426.44" r="0.66" fill="#606888" opacity="0.83" filter="url(#blur3)"/>
<circle cx="120.49" cy="438.68" r="0.65" fill="#606888" opacity="0.62" filter="url(#blur3)"/>
<circle cx="108.19" cy="439.82" r="0.88" fill="#4a5ab0" opacity="0.77" filter="url(#blur3)"/>
<circle cx="120.96" cy="431.12" r="0.79" fill="#5868b8" opacity="0.95" filter="url(#blur3)"/>
<circle cx="116.32" cy="431.71" r="0.63" fill="#606888" opacity="0.61" filter="url(#blur3)"/>
<circle cx="113.71" cy="443.15" r="0.99" fill="#606888" opacity="0.95" filter="url(#blur3)"/>
<ellipse cx="111.96" cy="444.07" rx="1.5" ry="1.1" fill="#5060c8" opacity="0.8" filter="url(#blur3)"/>
<ellipse cx="126.09" cy="427.65" rx="1.5" ry="1.1" fill="#5060c8" opacity="0.8" filter="url(#blur3)"/>
</g>
<rect x="132.1" y="371.1" width="31.1" height="24.4" fill="#080a17"/>
<g>
<ellipse cx="138.19" cy="387.85" rx="3.52" ry="1.04" fill="#5a6aa8" opacity="0.42" filter="url(#blur2)"/>
<ellipse cx="150.69" cy="379.24" rx="3.23" ry="1.05" fill="#5a6aa8" opacity="0.4" filter="url(#blur2)"/>
<ellipse cx="156.34" cy="381.35" rx="3.32" ry="1.28" fill="#5a6aa8" opacity="0.44" filter="url(#blur2)"/>
<ellipse cx="145.47" cy="387.48" rx="3.83" ry="1.05" fill="#5a6aa8" opacity="0.32" filter="url(#blur2)"/>
<circle cx="142.91" cy="379.55" r="0.74" fill="#606888" opacity="0.64" filter="url(#blur3)"/>
</g>
<rect x="132.1" y="396.9" width="31.1" height="24.7" fill="#080a17"/>
<g>
<ellipse cx="157.5" cy="413.23" rx="4.8" ry="1.02" fill="#5a6aa8" opacity="0.37" filter="url(#blur2)"/>
<ellipse cx="145.18" cy="418.58" rx="4.18" ry="1.04" fill="#5a6aa8" opacity="0.39" filter="url(#blur2)"/>
<ellipse cx="142.46" cy="400.8" rx="3.2" ry="1.23" fill="#5a6aa8" opacity="0.36" filter="url(#blur2)"/>
<ellipse cx="157.71" cy="404.56" rx="3.53" ry="1.1" fill="#5a6aa8" opacity="0.34" filter="url(#blur2)"/>
<circle cx="144.09" cy="419.15" r="0.95" fill="#4a5ab0" opacity="0.74" filter="url(#blur3)"/>
</g>
<rect x="132.1" y="423.2" width="31.1" height="25.5" fill="#080a17"/>
<g>
<ellipse cx="156.33" cy="437.01" rx="3.41" ry="0.93" fill="#5a6aa8" opacity="0.49" filter="url(#blur2)"/>
<ellipse cx="145.59" cy="438.19" rx="3.28" ry="1.25" fill="#5a6aa8" opacity="0.4" filter="url(#blur2)"/>
<ellipse cx="157.17" cy="436.93" rx="3.34" ry="1.07" fill="#5a6aa8" opacity="0.36" filter="url(#blur2)"/>
<ellipse cx="142.01" cy="440.61" rx="4.31" ry="1.06" fill="#5a6aa8" opacity="0.35" filter="url(#blur2)"/>
<circle cx="147.18" cy="439.75" r="0.65" fill="#4a5ab0" opacity="0.66" filter="url(#blur3)"/>
</g>
<rect x="164.8" y="371.1" width="31.5" height="24.4" fill="#070918"/>
<g>
<ellipse cx="171.93" cy="392.39" rx="2.8" ry="1.43" fill="#4656b0" opacity="0.54" filter="url(#blur5)"/>
<ellipse cx="195.2" cy="382.18" rx="2.37" ry="1.42" fill="#4656b0" opacity="0.32" filter="url(#blur5)"/>
<ellipse cx="175.89" cy="374.14" rx="2.49" ry="1.46" fill="#4656b0" opacity="0.45" filter="url(#blur5)"/>
<ellipse cx="191.97" cy="388.89" rx="2.7" ry="1.55" fill="#4656b0" opacity="0.44" filter="url(#blur5)"/>
<ellipse cx="176.92" cy="379.68" rx="2.27" ry="1.47" fill="#4656b0" opacity="0.55" filter="url(#blur5)"/>
<ellipse cx="169.51" cy="383.38" rx="2.96" ry="1.82" fill="#4656b0" opacity="0.36" filter="url(#blur5)"/>
<ellipse cx="173.8" cy="377.67" rx="2.68" ry="1.57" fill="#4656b0" opacity="0.55" filter="url(#blur5)"/>
<ellipse cx="190.84" cy="391.65" rx="2.23" ry="1.32" fill="#4656b0" opacity="0.49" filter="url(#blur5)"/>
<circle cx="191.83" cy="382.73" r="0.83" fill="#5868b8" opacity="0.63" filter="url(#blur3)"/>
<circle cx="192.81" cy="392.46" r="0.81" fill="#606888" opacity="0.94" filter="url(#blur3)"/>
</g>
<rect x="164.8" y="396.9" width="31.5" height="24.7" fill="#070918"/>
<g>
<ellipse cx="173.13" cy="400.38" rx="2.39" ry="1.61" fill="#4656b0" opacity="0.48" filter="url(#blur5)"/>
<ellipse cx="193.57" cy="414.28" rx="2.98" ry="1.76" fill="#4656b0" opacity="0.42" filter="url(#blur5)"/>
<ellipse cx="182.07" cy="398.8" rx="3.14" ry="1.44" fill="#4656b0" opacity="0.54" filter="url(#blur5)"/>
<ellipse cx="184.84" cy="404.8" rx="2.35" ry="1.45" fill="#4656b0" opacity="0.47" filter="url(#blur5)"/>
<ellipse cx="186.41" cy="400.45" rx="2.28" ry="1.61" fill="#4656b0" opacity="0.45" filter="url(#blur5)"/>
<ellipse cx="177.25" cy="402.98" rx="2.92" ry="1.31" fill="#4656b0" opacity="0.38" filter="url(#blur5)"/>
<ellipse cx="179.39" cy="419.67" rx="2.97" ry="1.83" fill="#4656b0" opacity="0.42" filter="url(#blur5)"/>
<ellipse cx="172.73" cy="403.51" rx="3.35" ry="1.72" fill="#4656b0" opacity="0.38" filter="url(#blur5)"/>
<circle cx="166.92" cy="409.21" r="0.87" fill="#606888" opacity="0.63" filter="url(#blur3)"/>
<circle cx="172.79" cy="407.61" r="0.75" fill="#606888" opacity="0.61" filter="url(#blur3)"/>
</g>
<rect x="164.8" y="423.2" width="31.5" height="25.5" fill="#070918"/>
<g>
<ellipse cx="175.77" cy="434.08" rx="3.02" ry="1.42" fill="#4656b0" opacity="0.51" filter="url(#blur5)"/>
<ellipse cx="187.6" cy="436.06" rx="2.45" ry="1.88" fill="#4656b0" opacity="0.38" filter="url(#blur5)"/>
<ellipse cx="189.99" cy="429.62" rx="2.47" ry="1.76" fill="#4656b0" opacity="0.38" filter="url(#blur5)"/>
<ellipse cx="193.88" cy="435.85" rx="2.42" ry="1.43" fill="#4656b0" opacity="0.41" filter="url(#blur5)"/>
<ellipse cx="185.43" cy="446.5" rx="2.38" ry="1.54" fill="#4656b0" opacity="0.36" filter="url(#blur5)"/>
<ellipse cx="194.54" cy="427.53" rx="2.26" ry="1.34" fill="#4656b0" opacity="0.4" filter="url(#blur5)"/>
<ellipse cx="192.3" cy="444.96" rx="3.08" ry="1.9" fill="#4656b0" opacity="0.54" filter="url(#blur5)"/>
<ellipse cx="175.51" cy="428.56" rx="3.32" ry="1.75" fill="#4656b0" opacity="0.31" filter="url(#blur5)"/>
<circle cx="185.24" cy="433.22" r="0.75" fill="#606888" opacity="0.75" filter="url(#blur3)"/>
<circle cx="169.41" cy="426.46" r="0.63" fill="#606888" opacity="0.93" filter="url(#blur3)"/>
</g>
<rect x="197.9" y="371.1" width="31.5" height="24.4" fill="#030307"/>
<g>
<circle cx="202.93" cy="393.24" r="0.68" fill="#606888" opacity="0.87" filter="url(#blur3)"/>
<circle cx="208.2" cy="389.8" r="0.64" fill="#4a5ab0" opacity="0.77" filter="url(#blur3)"/>
<circle cx="210.02" cy="392.28" r="0.68" fill="#606888" opacity="0.86" filter="url(#blur3)"/>
<circle cx="212.92" cy="386.12" r="0.7" fill="#4a5ab0" opacity="0.87" filter="url(#blur3)"/>
<circle cx="200.56" cy="373.35" r="0.63" fill="#5868b8" opacity="0.69" filter="url(#blur3)"/>
<circle cx="220.7" cy="391.83" r="0.74" fill="#606888" opacity="0.72" filter="url(#blur3)"/>
<circle cx="226.58" cy="373.53" r="0.9" fill="#4a5ab0" opacity="0.71" filter="url(#blur3)"/>
<circle cx="207.26" cy="372.68" r="0.9" fill="#4a5ab0" opacity="0.93" filter="url(#blur3)"/>
<circle cx="201.26" cy="390.28" r="0.64" fill="#4a5ab0" opacity="0.93" filter="url(#blur3)"/>
<circle cx="226.59" cy="380.87" r="0.7" fill="#606888" opacity="0.89" filter="url(#blur3)"/>
<circle cx="203.18" cy="383.23" r="0.6" fill="#4a5ab0" opacity="0.71" filter="url(#blur3)"/>
<circle cx="219.13" cy="375.84" r="0.69" fill="#606888" opacity="0.76" filter="url(#blur3)"/>
</g>
<rect x="197.9" y="396.9" width="31.5" height="24.7" fill="#030307"/>
<g>
<circle cx="221.74" cy="411.33" r="0.8" fill="#606888" opacity="0.86" filter="url(#blur3)"/>
<circle cx="206.45" cy="399.8" r="0.61" fill="#4a5ab0" opacity="0.79" filter="url(#blur3)"/>
<circle cx="203.98" cy="407.66" r="0.64" fill="#5868b8" opacity="0.69" filter="url(#blur3)"/>
<circle cx="201.8" cy="400.49" r="0.8" fill="#4a5ab0" opacity="0.94" filter="url(#blur3)"/>
<circle cx="204.34" cy="401.28" r="0.78" fill="#4a5ab0" opacity="0.68" filter="url(#blur3)"/>
<circle cx="214.75" cy="415.19" r="0.9" fill="#606888" opacity="0.7" filter="url(#blur3)"/>
<circle cx="215.56" cy="406.49" r="0.9" fill="#5868b8" opacity="0.75" filter="url(#blur3)"/>
<circle cx="204.69" cy="403.51" r="0.71" fill="#4a5ab0" opacity="0.67" filter="url(#blur3)"/>
<circle cx="201.25" cy="403.86" r="0.7" fill="#4a5ab0" opacity="0.68" filter="url(#blur3)"/>
<circle cx="222.44" cy="412.58" r="1" fill="#5868b8" opacity="0.6" filter="url(#blur3)"/>
<circle cx="224.56" cy="403.42" r="0.78" fill="#606888" opacity="0.61" filter="url(#blur3)"/>
<circle cx="207.77" cy="400.99" r="0.68" fill="#4a5ab0" opacity="0.67" filter="url(#blur3)"/>
</g>
<rect x="197.9" y="423.2" width="31.5" height="25.5" fill="#030307"/>
<g>
<circle cx="201.54" cy="436.24" r="0.67" fill="#4a5ab0" opacity="0.69" filter="url(#blur3)"/>
<circle cx="221.57" cy="445.98" r="0.64" fill="#4a5ab0" opacity="0.85" filter="url(#blur3)"/>
<circle cx="209.37" cy="425.54" r="0.74" fill="#5868b8" opacity="0.67" filter="url(#blur3)"/>
<circle cx="206.67" cy="438.19" r="0.86" fill="#5868b8" opacity="0.89" filter="url(#blur3)"/>
<circle cx="222.74" cy="433.9" r="0.75" fill="#4a5ab0" opacity="0.71" filter="url(#blur3)"/>
<circle cx="205.2" cy="442.59" r="0.82" fill="#5868b8" opacity="0.74" filter="url(#blur3)"/>
<circle cx="222.08" cy="439.64" r="0.66" fill="#4a5ab0" opacity="0.63" filter="url(#blur3)"/>
<circle cx="204.07" cy="440.35" r="0.76" fill="#606888" opacity="0.83" filter="url(#blur3)"/>
<circle cx="211.31" cy="425.86" r="0.9" fill="#606888" opacity="0.74" filter="url(#blur3)"/>
<circle cx="199.92" cy="441.95" r="0.92" fill="#4a5ab0" opacity="0.67" filter="url(#blur3)"/>
<circle cx="220.15" cy="429.28" r="0.6" fill="#5868b8" opacity="0.75" filter="url(#blur3)"/>
<circle cx="222.78" cy="433.84" r="0.95" fill="#606888" opacity="0.87" filter="url(#blur3)"/>
</g>
<rect x="231" y="371.1" width="31.1" height="24.4" fill="#030307"/>
<g>
<circle cx="236.15" cy="373.71" r="0.66" fill="#606888" opacity="0.63" filter="url(#blur3)"/>
<circle cx="249.98" cy="380.54" r="0.8" fill="#5868b8" opacity="0.72" filter="url(#blur3)"/>
<circle cx="237.05" cy="376.28" r="0.63" fill="#606888" opacity="0.77" filter="url(#blur3)"/>
<circle cx="255.12" cy="393.29" r="0.68" fill="#5868b8" opacity="0.89" filter="url(#blur3)"/>
<circle cx="233.72" cy="392.13" r="0.73" fill="#4a5ab0" opacity="0.92" filter="url(#blur3)"/>
<circle cx="243.4" cy="391.95" r="0.85" fill="#5868b8" opacity="0.82" filter="url(#blur3)"/>
<circle cx="256.57" cy="385.89" r="0.85" fill="#5868b8" opacity="0.89" filter="url(#blur3)"/>
<circle cx="237.64" cy="377.27" r="0.76" fill="#4a5ab0" opacity="0.65" filter="url(#blur3)"/>
<circle cx="242.59" cy="375.8" r="0.99" fill="#5868b8" opacity="0.61" filter="url(#blur3)"/>
<circle cx="248.3" cy="388.81" r="0.62" fill="#606888" opacity="0.64" filter="url(#blur3)"/>
<circle cx="249.35" cy="384.37" r="0.85" fill="#606888" opacity="0.83" filter="url(#blur3)"/>
<circle cx="241.16" cy="377.93" r="0.76" fill="#606888" opacity="0.76" filter="url(#blur3)"/>
</g>
<rect x="231" y="396.9" width="31.1" height="24.7" fill="#030307"/>
<g>
<circle cx="244.82" cy="398.91" r="0.85" fill="#606888" opacity="0.76" filter="url(#blur3)"/>
<circle cx="245.06" cy="411.82" r="0.93" fill="#5868b8" opacity="0.88" filter="url(#blur3)"/>
<circle cx="243.75" cy="399.86" r="0.74" fill="#606888" opacity="0.63" filter="url(#blur3)"/>
<circle cx="244.92" cy="409.47" r="0.62" fill="#4a5ab0" opacity="0.65" filter="url(#blur3)"/>
<circle cx="258.41" cy="405.21" r="0.89" fill="#5868b8" opacity="0.62" filter="url(#blur3)"/>
<circle cx="246.66" cy="406.6" r="0.98" fill="#5868b8" opacity="0.61" filter="url(#blur3)"/>
<circle cx="234.37" cy="411.73" r="0.88" fill="#5868b8" opacity="0.67" filter="url(#blur3)"/>
<circle cx="260.09" cy="409.07" r="0.98" fill="#5868b8" opacity="0.84" filter="url(#blur3)"/>
<circle cx="252.76" cy="403.2" r="0.93" fill="#4a5ab0" opacity="0.86" filter="url(#blur3)"/>
<circle cx="236.96" cy="417.85" r="0.71" fill="#606888" opacity="0.65" filter="url(#blur3)"/>
<circle cx="246.61" cy="418.36" r="0.68" fill="#606888" opacity="0.82" filter="url(#blur3)"/>
<circle cx="239.17" cy="406.48" r="0.68" fill="#606888" opacity="0.66" filter="url(#blur3)"/>
</g>
<rect x="231" y="423.2" width="31.1" height="25.5" fill="#030307"/>
<g>
<circle cx="258.81" cy="439.99" r="0.96" fill="#5868b8" opacity="0.88" filter="url(#blur3)"/>
<circle cx="239.93" cy="441.99" r="0.62" fill="#606888" opacity="0.94" filter="url(#blur3)"/>
<circle cx="245.23" cy="436.43" r="0.88" fill="#5868b8" opacity="0.69" filter="url(#blur3)"/>
<circle cx="247.55" cy="443.97" r="0.9" fill="#606888" opacity="0.69" filter="url(#blur3)"/>
<circle cx="260.33" cy="437.69" r="0.74" fill="#5868b8" opacity="0.75" filter="url(#blur3)"/>
<circle cx="237.47" cy="441.43" r="0.62" fill="#4a5ab0" opacity="0.69" filter="url(#blur3)"/>
<circle cx="250.46" cy="446.84" r="0.83" fill="#4a5ab0" opacity="0.91" filter="url(#blur3)"/>
<circle cx="253.1" cy="441.51" r="0.69" fill="#606888" opacity="0.82" filter="url(#blur3)"/>
<circle cx="244.65" cy="436.24" r="0.96" fill="#5868b8" opacity="0.77" filter="url(#blur3)"/>
<circle cx="249.71" cy="425.73" r="0.62" fill="#4a5ab0" opacity="0.72" filter="url(#blur3)"/>
<circle cx="235.49" cy="432.74" r="0.69" fill="#4a5ab0" opacity="0.71" filter="url(#blur3)"/>
<circle cx="236.26" cy="432.94" r="0.93" fill="#5868b8" opacity="0.65" filter="url(#blur3)"/>
</g>
<rect x="263.6" y="371.1" width="31.3" height="24.4" fill="#04050b"/>
<g>
<circle cx="291.61" cy="377.81" r="0.66" fill="#5868b8" opacity="0.62" filter="url(#blur3)"/>
<circle cx="269.19" cy="386.84" r="0.71" fill="#606888" opacity="0.94" filter="url(#blur3)"/>
<circle cx="266.69" cy="390.17" r="0.96" fill="#4a5ab0" opacity="0.83" filter="url(#blur3)"/>
<circle cx="277.66" cy="392.66" r="0.89" fill="#5868b8" opacity="0.66" filter="url(#blur3)"/>
<circle cx="265.11" cy="373.92" r="0.61" fill="#5868b8" opacity="0.68" filter="url(#blur3)"/>
<circle cx="266.75" cy="389.27" r="0.6" fill="#4a5ab0" opacity="0.83" filter="url(#blur3)"/>
<circle cx="270.68" cy="381.44" r="0.81" fill="#4a5ab0" opacity="0.78" filter="url(#blur3)"/>
<circle cx="283.26" cy="390.01" r="0.67" fill="#606888" opacity="0.62" filter="url(#blur3)"/>
<circle cx="282.81" cy="393.87" r="0.89" fill="#606888" opacity="0.85" filter="url(#blur3)"/>
<circle cx="265.28" cy="390.67" r="0.9" fill="#606888" opacity="0.63" filter="url(#blur3)"/>
<circle cx="283.65" cy="376.35" r="1" fill="#606888" opacity="0.68" filter="url(#blur3)"/>
<ellipse cx="267.58" cy="380.27" rx="1.5" ry="1.1" fill="#5060c8" opacity="0.8" filter="url(#blur3)"/>
<ellipse cx="285.57" cy="386.89" rx="1.5" ry="1.1" fill="#5060c8" opacity="0.8" filter="url(#blur3)"/>
</g>
<rect x="263.6" y="396.9" width="31.3" height="24.7" fill="#04050b"/>
<g>
<circle cx="289.02" cy="413.84" r="0.71" fill="#4a5ab0" opacity="0.84" filter="url(#blur3)"/>
<circle cx="284.51" cy="418.3" r="0.99" fill="#606888" opacity="0.82" filter="url(#blur3)"/>
<circle cx="292.41" cy="403.11" r="0.95" fill="#5868b8" opacity="0.66" filter="url(#blur3)"/>
<circle cx="290.7" cy="416.67" r="0.68" fill="#5868b8" opacity="0.86" filter="url(#blur3)"/>
<circle cx="274.35" cy="417.5" r="0.73" fill="#5868b8" opacity="0.73" filter="url(#blur3)"/>
<circle cx="289.21" cy="418.4" r="0.99" fill="#4a5ab0" opacity="0.76" filter="url(#blur3)"/>
<circle cx="288.86" cy="413.54" r="0.94" fill="#606888" opacity="0.93" filter="url(#blur3)"/>
<circle cx="271.72" cy="417.6" r="0.92" fill="#606888" opacity="0.82" filter="url(#blur3)"/>
<circle cx="267.3" cy="418.16" r="0.66" fill="#5868b8" opacity="0.64" filter="url(#blur3)"/>
<circle cx="282.7" cy="401.91" r="0.99" fill="#4a5ab0" opacity="0.61" filter="url(#blur3)"/>
<circle cx="266.28" cy="413.43" r="0.85" fill="#4a5ab0" opacity="0.62" filter="url(#blur3)"/>
<ellipse cx="267.78" cy="415.92" rx="1.5" ry="1.1" fill="#5060c8" opacity="0.8" filter="url(#blur3)"/>
<ellipse cx="285.87" cy="403.63" rx="1.5" ry="1.1" fill="#5060c8" opacity="0.8" filter="url(#blur3)"/>
</g>
<rect x="263.6" y="423.2" width="31.3" height="25.5" fill="#04050b"/>
<g>
<circle cx="292.11" cy="436.71" r="0.87" fill="#4a5ab0" opacity="0.93" filter="url(#blur3)"/>
<circle cx="268.13" cy="429.33" r="0.64" fill="#5868b8" opacity="0.93" filter="url(#blur3)"/>
<circle cx="290.88" cy="441.66" r="0.63" fill="#4a5ab0" opacity="0.82" filter="url(#blur3)"/>
<circle cx="278.6" cy="427.68" r="0.92" fill="#4a5ab0" opacity="0.67" filter="url(#blur3)"/>
<circle cx="274.13" cy="434.23" r="0.61" fill="#606888" opacity="0.93" filter="url(#blur3)"/>
<circle cx="266.47" cy="441.8" r="0.96" fill="#4a5ab0" opacity="0.78" filter="url(#blur3)"/>
<circle cx="289.19" cy="438.61" r="0.61" fill="#606888" opacity="0.61" filter="url(#blur3)"/>
<circle cx="279.78" cy="426.91" r="0.79" fill="#5868b8" opacity="0.79" filter="url(#blur3)"/>
<circle cx="271.23" cy="444.1" r="0.64" fill="#606888" opacity="0.66" filter="url(#blur3)"/>
<circle cx="265.14" cy="429.25" r="0.9" fill="#5868b8" opacity="0.6" filter="url(#blur3)"/>
<circle cx="278.99" cy="435.76" r="0.92" fill="#5868b8" opacity="0.94" filter="url(#blur3)"/>
<ellipse cx="281.59" cy="444.87" rx="1.5" ry="1.1" fill="#5060c8" opacity="0.8" filter="url(#blur3)"/>
<ellipse cx="279.63" cy="437.47" rx="1.5" ry="1.1" fill="#5060c8" opacity="0.8" filter="url(#blur3)"/>
</g>
<rect x="32.8" y="449.7" width="32.4" height="1.1" fill="#c6c6c6"/>
<rect x="32.8" y="451.7" width="32.4" height="2.6" fill="#bababa"/>
<rect x="32.8" y="455.2" width="32.4" height="0.9" fill="#c8c8c8"/>
<rect x="66.1" y="449.7" width="31.6" height="1.1" fill="#c6c6c6"/>
<rect x="66.1" y="451.7" width="31.6" height="2.6" fill="#bababa"/>
<rect x="66.1" y="455.2" width="31.6" height="0.9" fill="#c8c8c8"/>
<rect x="98.9" y="449.7" width="32" height="1.1" fill="#c6c6c6"/>
<rect x="98.9" y="451.7" width="32" height="2.6" fill="#bababa"/>
<rect x="98.9" y="455.2" width="32" height="0.9" fill="#c8c8c8"/>
<rect x="132.1" y="449.7" width="31.1" height="1.1" fill="#c6c6c6"/>
<rect x="132.1" y="451.7" width="31.1" height="2.6" fill="#bababa"/>
<rect x="132.1" y="455.2" width="31.1" height="0.9" fill="#c8c8c8"/>
<rect x="164.8" y="449.7" width="31.5" height="1.1" fill="#c6c6c6"/>
<rect x="164.8" y="451.7" width="31.5" height="2.6" fill="#bababa"/>
<rect x="164.8" y="455.2" width="31.5" height="0.9" fill="#c8c8c8"/>
<rect x="197.9" y="449.7" width="31.5" height="1.1" fill="#c6c6c6"/>
<rect x="197.9" y="451.7" width="31.5" height="2.6" fill="#bababa"/>
<rect x="197.9" y="455.2" width="31.5" height="0.9" fill="#c8c8c8"/>
<rect x="231" y="449.7" width="31.1" height="1.1" fill="#c6c6c6"/>
<rect x="231" y="451.7" width="31.1" height="2.6" fill="#bababa"/>
<rect x="231" y="455.2" width="31.1" height="0.9" fill="#c8c8c8"/>
<rect x="263.6" y="449.7" width="31.3" height="1.1" fill="#c6c6c6"/>
<rect x="263.6" y="451.7" width="31.3" height="2.6" fill="#bababa"/>
<rect x="263.6" y="455.2" width="31.3" height="0.9" fill="#c8c8c8"/>
<text x="114.4" y="342.8" font-size="7.4" text-anchor="middle" textLength="46.5" lengthAdjust="spacingAndGlyphs">pCMV vector</text>
<line x1="67.2" y1="344.2" x2="159.6" y2="344.2" stroke="#000" stroke-width="0.8"/>
<text x="247.6" y="342.8" font-size="7.4" text-anchor="middle" textLength="75" lengthAdjust="spacingAndGlyphs">pCMV-FLAG-RAD51</text>
<line x1="200.2" y1="344.4" x2="290.2" y2="344.4" stroke="#000" stroke-width="0.8"/>
<text x="44.9" y="353.3" font-size="7.1" text-anchor="end">Corylin (μM)</text>
<text x="44.3" y="361.5" font-size="7.1" text-anchor="end">VP16</text>
<text x="43.9" y="369.1" font-size="7.1" text-anchor="end">Recovery</text>
<text x="49.8" y="353.9" font-size="7.2" text-anchor="middle">0</text>
<text x="49.8" y="362.5" font-size="7.2" text-anchor="middle">+</text>
<text x="49.8" y="370.4" font-size="7.2" text-anchor="middle">-</text>
<text x="82.1" y="353.9" font-size="7.2" text-anchor="middle">0</text>
<text x="82.1" y="362.5" font-size="7.2" text-anchor="middle">+</text>
<text x="82.1" y="370.4" font-size="7.2" text-anchor="middle">+</text>
<text x="115.2" y="353.9" font-size="7.2" text-anchor="middle">30</text>
<text x="115.2" y="362.5" font-size="7.2" text-anchor="middle">+</text>
<text x="115.2" y="370.4" font-size="7.2" text-anchor="middle">+</text>
<text x="147.6" y="353.9" font-size="7.2" text-anchor="middle">60</text>
<text x="147.6" y="362.5" font-size="7.2" text-anchor="middle">+</text>
<text x="147.6" y="370.4" font-size="7.2" text-anchor="middle">+</text>
<text x="182" y="353.9" font-size="7.2" text-anchor="middle">0</text>
<text x="182" y="362.5" font-size="7.2" text-anchor="middle">+</text>
<text x="182" y="370.4" font-size="7.2" text-anchor="middle">-</text>
<text x="214.3" y="353.9" font-size="7.2" text-anchor="middle">0</text>
<text x="214.3" y="362.5" font-size="7.2" text-anchor="middle">+</text>
<text x="214.3" y="370.4" font-size="7.2" text-anchor="middle">+</text>
<text x="247" y="353.9" font-size="7.2" text-anchor="middle">30</text>
<text x="247" y="362.5" font-size="7.2" text-anchor="middle">+</text>
<text x="247" y="370.4" font-size="7.2" text-anchor="middle">+</text>
<text x="278.6" y="353.9" font-size="7.2" text-anchor="middle">60</text>
<text x="278.6" y="362.5" font-size="7.2" text-anchor="middle">+</text>
<text x="278.6" y="370.4" font-size="7.2" text-anchor="middle">+</text>
<text transform="translate(290.4 323.1) scale(1.065 1)" font-size="19.4" font-family="Liberation Serif, Times New Roman, serif">(H)</text>
<line x1="318.5" y1="427.4" x2="318.5" y2="362" stroke="#000" stroke-width="1"/>
<line x1="316.4" y1="427.5" x2="318" y2="427.5" stroke="#000" stroke-width="1"/>
<text x="315.6" y="428.66" font-size="4.6" font-weight="bold" text-anchor="end">0</text>
<line x1="316.4" y1="414.5" x2="318" y2="414.5" stroke="#000" stroke-width="1"/>
<text x="315.6" y="415.66" font-size="4.6" font-weight="bold" text-anchor="end">20</text>
<line x1="316.4" y1="401.5" x2="318" y2="401.5" stroke="#000" stroke-width="1"/>
<text x="315.6" y="402.66" font-size="4.6" font-weight="bold" text-anchor="end">40</text>
<line x1="316.4" y1="388.5" x2="318" y2="388.5" stroke="#000" stroke-width="1"/>
<text x="315.6" y="389.66" font-size="4.6" font-weight="bold" text-anchor="end">60</text>
<line x1="316.4" y1="375.5" x2="318" y2="375.5" stroke="#000" stroke-width="1"/>
<text x="315.6" y="376.66" font-size="4.6" font-weight="bold" text-anchor="end">80</text>
<line x1="316.4" y1="362.5" x2="318" y2="362.5" stroke="#000" stroke-width="1"/>
<text x="315.6" y="363.66" font-size="4.6" font-weight="bold" text-anchor="end">100</text>
<line x1="317.6" y1="427.5" x2="416.6" y2="427.5" stroke="#000" stroke-width="1"/>
<rect x="322.4" y="362" width="16.3" height="65" fill="#000" stroke="#000" stroke-width="0.6"/>
<line x1="330.55" y1="427" x2="330.55" y2="428.5" stroke="#000" stroke-width="0.8"/>
<rect x="346.9" y="426.02" width="16.7" height="0.98" fill="#777" stroke="#000" stroke-width="0.6"/>
<line x1="355.25" y1="426.02" x2="355.25" y2="425.38" stroke="#000" stroke-width="0.8"/>
<line x1="352.45" y1="425.38" x2="358.05" y2="425.38" stroke="#000" stroke-width="0.8"/>
<line x1="355.25" y1="427" x2="355.25" y2="428.5" stroke="#000" stroke-width="0.8"/>
<rect x="370.9" y="416.27" width="16.8" height="10.73" fill="#777" stroke="#000" stroke-width="0.6"/>
<line x1="379.3" y1="416.27" x2="379.3" y2="413.02" stroke="#000" stroke-width="0.8"/>
<line x1="376.5" y1="413.02" x2="382.1" y2="413.02" stroke="#000" stroke-width="0.8"/>
<line x1="379.3" y1="427" x2="379.3" y2="428.5" stroke="#000" stroke-width="0.8"/>
<rect x="396" y="386.7" width="16.7" height="40.3" fill="#d2d2d2" stroke="#000" stroke-width="0.6"/>
<line x1="404.35" y1="386.7" x2="404.35" y2="379.55" stroke="#000" stroke-width="0.8"/>
<line x1="401.55" y1="379.55" x2="407.15" y2="379.55" stroke="#000" stroke-width="0.8"/>
<line x1="404.35" y1="427" x2="404.35" y2="428.5" stroke="#000" stroke-width="0.8"/>
<text x="367.2" y="354.5" font-size="6.4" font-weight="bold" text-anchor="middle">pCMV vector</text>
<text x="326.8" y="434.7" font-size="6.1" text-anchor="end">Corylin</text>
<text x="326.8" y="441.2" font-size="6.1" text-anchor="end">VP16</text>
<text x="326.8" y="447.3" font-size="6.1" text-anchor="end">Recovery</text>
<text x="330.55" y="434.7" font-size="6" text-anchor="middle">0</text>
<text x="330.55" y="441.6" font-size="6" text-anchor="middle">+</text>
<text x="330.55" y="448" font-size="6" text-anchor="middle">-</text>
<text x="355.25" y="434.7" font-size="6" text-anchor="middle">0</text>
<text x="355.25" y="441.6" font-size="6" text-anchor="middle">+</text>
<text x="355.25" y="448" font-size="6" text-anchor="middle">+</text>
<text x="379.3" y="434.7" font-size="6" text-anchor="middle">30</text>
<text x="379.3" y="441.6" font-size="6" text-anchor="middle">+</text>
<text x="379.3" y="448" font-size="6" text-anchor="middle">+</text>
<text x="404.35" y="434.7" font-size="6" text-anchor="middle">60</text>
<text x="404.35" y="441.6" font-size="6" text-anchor="middle">+</text>
<text x="404.35" y="448" font-size="6" text-anchor="middle">+</text>
<path d="M356.3 424.9V408.9H379.4V412.6" stroke="#333" stroke-width="0.8" fill="none"/>
<text x="367.85" y="409.9" font-size="6" font-weight="bold" text-anchor="middle" fill="#222">*</text>
<path d="M354 424.9V375.4H403.6V379.1" stroke="#333" stroke-width="0.8" fill="none"/>
<text x="378.8" y="376.4" font-size="6" font-weight="bold" text-anchor="middle" fill="#222">***</text>
<text x="303.5" y="394.5" font-size="6.3" font-weight="bold" text-anchor="middle" transform="rotate(-90 303.5 394.5)">Tail moment ratio (%)</text>
<line x1="439.5" y1="427.5" x2="439.5" y2="362.1" stroke="#000" stroke-width="1"/>
<line x1="437.8" y1="427.5" x2="439.4" y2="427.5" stroke="#000" stroke-width="1"/>
<text x="437" y="428.76" font-size="4.6" font-weight="bold" text-anchor="end">0</text>
<line x1="437.8" y1="414.5" x2="439.4" y2="414.5" stroke="#000" stroke-width="1"/>
<text x="437" y="415.76" font-size="4.6" font-weight="bold" text-anchor="end">20</text>
<line x1="437.8" y1="401.5" x2="439.4" y2="401.5" stroke="#000" stroke-width="1"/>
<text x="437" y="402.76" font-size="4.6" font-weight="bold" text-anchor="end">40</text>
<line x1="437.8" y1="388.5" x2="439.4" y2="388.5" stroke="#000" stroke-width="1"/>
<text x="437" y="389.76" font-size="4.6" font-weight="bold" text-anchor="end">60</text>
<line x1="437.8" y1="375.5" x2="439.4" y2="375.5" stroke="#000" stroke-width="1"/>
<text x="437" y="376.76" font-size="4.6" font-weight="bold" text-anchor="end">80</text>
<line x1="437.8" y1="362.5" x2="439.4" y2="362.5" stroke="#000" stroke-width="1"/>
<text x="437" y="363.76" font-size="4.6" font-weight="bold" text-anchor="end">100</text>
<line x1="439" y1="427.5" x2="532" y2="427.5" stroke="#000" stroke-width="1"/>
<rect x="443.8" y="362.1" width="16.1" height="65" fill="#000" stroke="#000" stroke-width="0.6"/>
<line x1="451.85" y1="427.1" x2="451.85" y2="428.6" stroke="#000" stroke-width="0.8"/>
<rect x="468.3" y="426.45" width="15.8" height="0.65" fill="#777" stroke="#000" stroke-width="0.6"/>
<line x1="476.2" y1="426.45" x2="476.2" y2="425.93" stroke="#000" stroke-width="0.8"/>
<line x1="473.4" y1="425.93" x2="479" y2="425.93" stroke="#000" stroke-width="0.8"/>
<line x1="476.2" y1="427.1" x2="476.2" y2="428.6" stroke="#000" stroke-width="0.8"/>
<rect x="492.5" y="424.89" width="16.4" height="2.21" fill="#777" stroke="#000" stroke-width="0.6"/>
<line x1="500.7" y1="424.89" x2="500.7" y2="422.55" stroke="#000" stroke-width="0.8"/>
<line x1="497.9" y1="422.55" x2="503.5" y2="422.55" stroke="#000" stroke-width="0.8"/>
<line x1="500.7" y1="427.1" x2="500.7" y2="428.6" stroke="#000" stroke-width="0.8"/>
<rect x="517" y="423.85" width="16.2" height="3.25" fill="#d8d8d8" stroke="#000" stroke-width="0.6"/>
<line x1="525.1" y1="423.85" x2="525.1" y2="421.25" stroke="#000" stroke-width="0.8"/>
<line x1="522.3" y1="421.25" x2="527.9" y2="421.25" stroke="#000" stroke-width="0.8"/>
<line x1="525.1" y1="427.1" x2="525.1" y2="428.6" stroke="#000" stroke-width="0.8"/>
<text x="487.8" y="354.5" font-size="6.4" font-weight="bold" text-anchor="middle">pCMV-FLAG-RAD51</text>
<text x="447.6" y="434.7" font-size="6.1" text-anchor="end">Corylin</text>
<text x="447.6" y="441.2" font-size="6.1" text-anchor="end">VP16</text>
<text x="447.6" y="447.3" font-size="6.1" text-anchor="end">Recovery</text>
<text x="451.85" y="434.7" font-size="6" text-anchor="middle">0</text>
<text x="451.85" y="441.6" font-size="6" text-anchor="middle">+</text>
<text x="451.85" y="448" font-size="6" text-anchor="middle">-</text>
<text x="476.2" y="434.7" font-size="6" text-anchor="middle">0</text>
<text x="476.2" y="441.6" font-size="6" text-anchor="middle">+</text>
<text x="476.2" y="448" font-size="6" text-anchor="middle">+</text>
<text x="500.7" y="434.7" font-size="6" text-anchor="middle">30</text>
<text x="500.7" y="441.6" font-size="6" text-anchor="middle">+</text>
<text x="500.7" y="448" font-size="6" text-anchor="middle">+</text>
<text x="525.1" y="434.7" font-size="6" text-anchor="middle">60</text>
<text x="525.1" y="441.6" font-size="6" text-anchor="middle">+</text>
<text x="525.1" y="448" font-size="6" text-anchor="middle">+</text>
<text x="424.5" y="394.5" font-size="6.3" font-weight="bold" text-anchor="middle" transform="rotate(-90 424.5 394.5)">Tail moment ratio (%)</text>
<text transform="translate(518.5 322.5) scale(1.065 1)" font-size="19.4" font-family="Liberation Serif, Times New Roman, serif">(I)</text>
<rect x="559.1" y="341.1" width="121.4" height="14.9" fill="#d5d5d5"/>
<rect x="559.1" y="357" width="121.4" height="14.8" fill="#c9c9c9"/>
<rect x="622.8" y="347.2" width="14.4" height="4.8" rx="3.36" ry="2.4" fill="#2a1e1e" opacity="1" filter="url(#blur4)"/>
<rect x="642" y="347.2" width="15" height="4.8" rx="3.36" ry="2.4" fill="#2a1e1e" opacity="1" filter="url(#blur4)"/>
<rect x="662.2" y="347.2" width="14.9" height="4.8" rx="3.36" ry="2.4" fill="#2a1e1e" opacity="1" filter="url(#blur4)"/>
<rect x="561.1" y="363.9" width="19.2" height="5.4" rx="3.78" ry="2.7" fill="#2a1e1e" opacity="1" filter="url(#blur4)"/>
<rect x="582.8" y="363.9" width="16.6" height="5.4" rx="3.78" ry="2.7" fill="#2a1e1e" opacity="1" filter="url(#blur4)"/>
<rect x="602" y="363.9" width="16.6" height="5.4" rx="3.78" ry="2.7" fill="#2a1e1e" opacity="1" filter="url(#blur4)"/>
<rect x="622.4" y="363.9" width="16.6" height="5.4" rx="3.78" ry="2.7" fill="#2a1e1e" opacity="1" filter="url(#blur4)"/>
<rect x="641.6" y="363.9" width="16.6" height="5.4" rx="3.78" ry="2.7" fill="#2a1e1e" opacity="1" filter="url(#blur4)"/>
<rect x="662" y="363.9" width="16.6" height="5.4" rx="3.78" ry="2.7" fill="#2a1e1e" opacity="1" filter="url(#blur4)"/>
<text x="587" y="332" font-size="6.8" text-anchor="middle">pCMV vector</text>
<line x1="562.5" y1="333.6" x2="613.3" y2="333.6" stroke="#000" stroke-width="0.8"/>
<text x="652.6" y="332" font-size="6.8" text-anchor="middle">pCMV -FLAG-RAD51</text>
<line x1="626" y1="333.6" x2="677" y2="333.6" stroke="#000" stroke-width="0.8"/>
<text x="557.6" y="341" font-size="6.4" text-anchor="end">Corylin</text>
<text x="566.4" y="340.3" font-size="6.4" text-anchor="middle">0</text>
<text x="588" y="340.3" font-size="6.4" text-anchor="middle">30</text>
<text x="609" y="340.3" font-size="6.4" text-anchor="middle">60</text>
<text x="629.4" y="340.3" font-size="6.4" text-anchor="middle">0</text>
<text x="650.5" y="340.3" font-size="6.4" text-anchor="middle">30</text>
<text x="671.8" y="340.3" font-size="6.4" text-anchor="middle">60</text>
<text x="557.6" y="352.2" font-size="6.6" text-anchor="end">RAD51</text>
<text x="558.4" y="368" font-size="6.6" text-anchor="end">α-Tubulin</text>
<line x1="585.5" y1="442.4" x2="585.5" y2="383.6" stroke="#000" stroke-width="1"/>
<line x1="584.3" y1="442.5" x2="585.9" y2="442.5" stroke="#000" stroke-width="1"/>
<text x="583.5" y="443.58" font-size="4.4" font-weight="bold" text-anchor="end">0</text>
<line x1="584.3" y1="427.5" x2="585.9" y2="427.5" stroke="#000" stroke-width="1"/>
<text x="583.5" y="428.98" font-size="4.4" font-weight="bold" text-anchor="end">10</text>
<line x1="584.3" y1="412.5" x2="585.9" y2="412.5" stroke="#000" stroke-width="1"/>
<text x="583.5" y="414.38" font-size="4.4" font-weight="bold" text-anchor="end">20</text>
<line x1="584.3" y1="398.5" x2="585.9" y2="398.5" stroke="#000" stroke-width="1"/>
<text x="583.5" y="399.78" font-size="4.4" font-weight="bold" text-anchor="end">30</text>
<line x1="584.3" y1="383.5" x2="585.9" y2="383.5" stroke="#000" stroke-width="1"/>
<text x="583.5" y="385.18" font-size="4.4" font-weight="bold" text-anchor="end">40</text>
<line x1="585.5" y1="442.5" x2="673.8" y2="442.5" stroke="#000" stroke-width="1"/>
<rect x="591" y="441.12" width="10.7" height="0.88" fill="#000" stroke="#000" stroke-width="0.5"/>
<line x1="596.35" y1="441.12" x2="596.35" y2="440.83" stroke="#000" stroke-width="0.7"/>
<line x1="593.85" y1="440.83" x2="598.85" y2="440.83" stroke="#000" stroke-width="0.7"/>
<rect x="601.6" y="440.83" width="10.7" height="1.17" fill="#9a9a9a" stroke="#000" stroke-width="0.5"/>
<line x1="606.95" y1="440.83" x2="606.95" y2="440.39" stroke="#000" stroke-width="0.7"/>
<line x1="604.45" y1="440.39" x2="609.45" y2="440.39" stroke="#000" stroke-width="0.7"/>
<rect x="612.2" y="440.69" width="10.7" height="1.31" fill="#777" stroke="#000" stroke-width="0.5"/>
<line x1="617.55" y1="440.69" x2="617.55" y2="440.1" stroke="#000" stroke-width="0.7"/>
<line x1="615.05" y1="440.1" x2="620.05" y2="440.1" stroke="#000" stroke-width="0.7"/>
<rect x="635.3" y="403.31" width="10.7" height="38.69" fill="#000" stroke="#000" stroke-width="0.5"/>
<line x1="640.65" y1="403.31" x2="640.65" y2="400.39" stroke="#000" stroke-width="0.7"/>
<line x1="638.15" y1="400.39" x2="643.15" y2="400.39" stroke="#000" stroke-width="0.7"/>
<rect x="646" y="403.16" width="10.7" height="38.84" fill="#9a9a9a" stroke="#000" stroke-width="0.5"/>
<line x1="651.35" y1="403.16" x2="651.35" y2="398.2" stroke="#000" stroke-width="0.7"/>
<line x1="648.85" y1="398.2" x2="653.85" y2="398.2" stroke="#000" stroke-width="0.7"/>
<rect x="656.8" y="404.92" width="10.7" height="37.08" fill="#777" stroke="#000" stroke-width="0.5"/>
<line x1="662.15" y1="404.92" x2="662.15" y2="404.62" stroke="#000" stroke-width="0.7"/>
<line x1="659.65" y1="404.62" x2="664.65" y2="404.62" stroke="#000" stroke-width="0.7"/>
<line x1="607" y1="442" x2="607" y2="443.5" stroke="#000" stroke-width="0.8"/>
<line x1="651.5" y1="442" x2="651.5" y2="443.5" stroke="#000" stroke-width="0.8"/>
<rect x="587.9" y="386.2" width="7.8" height="3" fill="#000" stroke="#000" stroke-width="0.4"/>
<text x="597.7" y="389.5" font-size="5">Corylin 0 μM</text>
<rect x="587.9" y="393.2" width="7.8" height="3" fill="#9a9a9a" stroke="#000" stroke-width="0.4"/>
<text x="597.7" y="396.5" font-size="5">Corylin 30 μM</text>
<rect x="587.9" y="400.2" width="7.8" height="3" fill="#777" stroke="#000" stroke-width="0.4"/>
<text x="597.7" y="403.5" font-size="5">Corylin 60 μM</text>
<text x="567.8" y="412" font-size="5.6" font-weight="bold" text-anchor="middle" transform="rotate(-90 567.8 412)">Relative RAD51 level</text>
<text x="574" y="412" font-size="5.6" font-weight="bold" text-anchor="middle" transform="rotate(-90 574 412)">(normalized to α-Tubulin)</text>
<text x="607.6" y="449.4" font-size="4.8" font-weight="bold" text-anchor="middle" textLength="27" lengthAdjust="spacingAndGlyphs">pCMV vector</text>
<text x="651.4" y="449.4" font-size="4.8" font-weight="bold" text-anchor="middle" textLength="43.6" lengthAdjust="spacingAndGlyphs">pCMV -FLAG-RAD51</text>
<text x="594.2" y="452" font-size="2.4" fill="#666" textLength="26.5" lengthAdjust="spacingAndGlyphs">Corylin 0 μM  + + +</text>
<text x="630" y="452" font-size="2.4" fill="#666" textLength="43" lengthAdjust="spacingAndGlyphs">Corylin 0 μM  + + + Corylin 0 μM  + + +</text>
<text x="594.2" y="454.2" font-size="2.4" fill="#666" textLength="26.5" lengthAdjust="spacingAndGlyphs">Corylin 30 μM  + + +</text>
<text x="630" y="454.2" font-size="2.4" fill="#666" textLength="43" lengthAdjust="spacingAndGlyphs">Corylin 30 μM  + + + Corylin 30 μM  + + +</text>
<text x="594.2" y="456.4" font-size="2.4" fill="#666" textLength="26.5" lengthAdjust="spacingAndGlyphs">Corylin 60 μM  + + +</text>
<text x="630" y="456.4" font-size="2.4" fill="#666" textLength="43" lengthAdjust="spacingAndGlyphs">Corylin 60 μM  + + + Corylin 60 μM  + + +</text>
</svg></body></html>
